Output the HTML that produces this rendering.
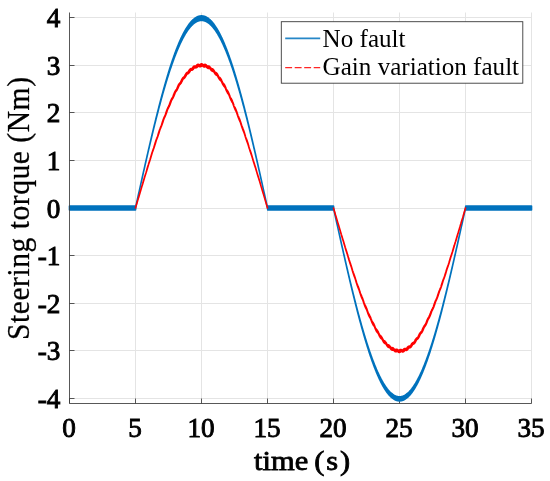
<!DOCTYPE html>
<html lang="en"><head><meta charset="utf-8"><title>Steering torque</title>
<style>html,body{margin:0;padding:0;background:#fff}svg{display:block}</style>
</head><body>
<svg width="550" height="481" viewBox="0 0 550 481">
<rect width="550" height="481" fill="#fff"/>
<path d="M135.50 12.5V403.5M201.50 12.5V403.5M267.50 12.5V403.5M333.50 12.5V403.5M399.50 12.5V403.5M465.50 12.5V403.5M531.50 12.5V403.5M69.5 398.50H531.5M69.5 350.50H531.5M69.5 303.50H531.5M69.5 255.50H531.5M69.5 208.50H531.5M69.5 160.50H531.5M69.5 112.50H531.5M69.5 65.50H531.5M69.5 17.50H531.5" stroke="#E4E4E4" stroke-width="1" fill="none"/>
<path d="M69.50 403.5v-5M135.50 403.5v-5M201.50 403.5v-5M267.50 403.5v-5M333.50 403.5v-5M399.50 403.5v-5M465.50 403.5v-5M531.50 403.5v-5M69.5 398.50h5M69.5 350.50h5M69.5 303.50h5M69.5 255.50h5M69.5 208.50h5M69.5 160.50h5M69.5 112.50h5M69.5 65.50h5M69.5 17.50h5" stroke="#3a3a3a" stroke-width="0.85" fill="none"/>
<path d="M69.50 206.00L69.83 206.00L70.16 206.00L70.49 206.00L70.82 206.00L71.15 206.00L71.48 206.00L71.81 206.00L72.14 206.00L72.47 206.00L72.80 206.00L73.13 206.00L73.46 206.00L73.79 206.00L74.12 206.00L74.45 206.00L74.78 206.00L75.11 206.00L75.44 206.00L75.77 206.00L76.10 206.00L76.43 206.00L76.76 206.00L77.09 206.00L77.42 206.00L77.75 206.00L78.08 206.00L78.41 206.00L78.74 206.00L79.07 206.00L79.40 206.00L79.73 206.00L80.06 206.00L80.39 206.00L80.72 206.00L81.05 206.00L81.38 206.00L81.71 206.00L82.04 206.00L82.37 206.00L82.70 206.00L83.03 206.00L83.36 206.00L83.69 206.00L84.02 206.00L84.35 206.00L84.68 206.00L85.01 206.00L85.34 206.00L85.67 206.00L86.00 206.00L86.33 206.00L86.66 206.00L86.99 206.00L87.32 206.00L87.65 206.00L87.98 206.00L88.31 206.00L88.64 206.00L88.97 206.00L89.30 206.00L89.63 206.00L89.96 206.00L90.29 206.00L90.62 206.00L90.95 206.00L91.28 206.00L91.61 206.00L91.94 206.00L92.27 206.00L92.60 206.00L92.93 206.00L93.26 206.00L93.59 206.00L93.92 206.00L94.25 206.00L94.58 206.00L94.91 206.00L95.24 206.00L95.57 206.00L95.90 206.00L96.23 206.00L96.56 206.00L96.89 206.00L97.22 206.00L97.55 206.00L97.88 206.00L98.21 206.00L98.54 206.00L98.87 206.00L99.20 206.00L99.53 206.00L99.86 206.00L100.19 206.00L100.52 206.00L100.85 206.00L101.18 206.00L101.51 206.00L101.84 206.00L102.17 206.00L102.50 206.00L102.83 206.00L103.16 206.00L103.49 206.00L103.82 206.00L104.15 206.00L104.48 206.00L104.81 206.00L105.14 206.00L105.47 206.00L105.80 206.00L106.13 206.00L106.46 206.00L106.79 206.00L107.12 206.00L107.45 206.00L107.78 206.00L108.11 206.00L108.44 206.00L108.77 206.00L109.10 206.00L109.43 206.00L109.76 206.00L110.09 206.00L110.42 206.00L110.75 206.00L111.08 206.00L111.41 206.00L111.74 206.00L112.07 206.00L112.40 206.00L112.73 206.00L113.06 206.00L113.39 206.00L113.72 206.00L114.05 206.00L114.38 206.00L114.71 206.00L115.04 206.00L115.37 206.00L115.70 206.00L116.03 206.00L116.36 206.00L116.69 206.00L117.02 206.00L117.35 206.00L117.68 206.00L118.01 206.00L118.34 206.00L118.67 206.00L119.00 206.00L119.33 206.00L119.66 206.00L119.99 206.00L120.32 206.00L120.65 206.00L120.98 206.00L121.31 206.00L121.64 206.00L121.97 206.00L122.30 206.00L122.63 206.00L122.96 206.00L123.29 206.00L123.62 206.00L123.95 206.00L124.28 206.00L124.61 206.00L124.94 206.00L125.27 206.00L125.60 206.00L125.93 206.00L126.26 206.00L126.59 206.00L126.92 206.00L127.25 206.00L127.58 206.00L127.91 206.00L128.24 206.00L128.57 206.00L128.90 206.00L129.23 206.00L129.56 206.00L129.89 206.00L130.22 206.00L130.55 206.00L130.88 206.00L131.21 206.00L131.54 206.00L131.87 206.00L132.20 206.00L132.53 206.00L132.86 206.00L133.19 206.00L133.52 206.00L133.85 206.00L134.18 206.00L134.51 206.00L134.84 206.00L135.17 206.00L135.50 206.00L135.83 206.50L136.16 205.01L136.49 203.51L136.82 202.02L137.15 200.52L137.48 199.02L137.81 197.53L138.14 196.03L138.47 194.54L138.80 193.05L139.13 191.56L139.46 190.06L139.79 188.57L140.12 187.08L140.45 185.59L140.78 184.11L141.11 182.62L141.44 181.14L141.77 179.65L142.10 178.17L142.43 176.69L142.76 175.21L143.09 173.74L143.42 172.26L143.75 170.79L144.08 169.32L144.41 167.85L144.74 166.39L145.07 164.92L145.40 163.46L145.73 162.01L146.06 160.55L146.39 159.10L146.72 157.65L147.05 156.20L147.38 154.76L147.71 153.31L148.04 151.88L148.37 150.44L148.70 149.01L149.03 147.58L149.36 146.16L149.69 144.74L150.02 143.32L150.35 141.91L150.68 140.50L151.01 139.10L151.34 137.69L151.67 136.30L152.00 134.91L152.33 133.52L152.66 132.13L152.99 130.75L153.32 129.38L153.65 128.01L153.98 126.64L154.31 125.28L154.64 123.93L154.97 122.58L155.30 121.23L155.63 119.89L155.96 118.56L156.29 117.23L156.62 115.91L156.95 114.59L157.28 113.27L157.61 111.97L157.94 110.67L158.27 109.37L158.60 108.08L158.93 106.80L159.26 105.52L159.59 104.25L159.92 102.98L160.25 101.72L160.58 100.47L160.91 99.23L161.24 97.99L161.57 96.76L161.90 95.53L162.23 94.31L162.56 93.10L162.89 91.89L163.22 90.70L163.55 89.51L163.88 88.32L164.21 87.15L164.54 85.98L164.87 84.82L165.20 83.66L165.53 82.51L165.86 81.38L166.19 80.24L166.52 79.12L166.85 78.01L167.18 76.90L167.51 75.80L167.84 74.71L168.17 73.62L168.50 72.55L168.83 71.48L169.16 70.42L169.49 69.37L169.82 68.33L170.15 67.30L170.48 66.28L170.81 65.26L171.14 64.25L171.47 63.26L171.80 62.27L172.13 61.29L172.46 60.32L172.79 59.35L173.12 58.40L173.45 57.46L173.78 56.52L174.11 55.60L174.44 54.68L174.77 53.78L175.10 52.88L175.43 51.99L175.76 51.11L176.09 50.25L176.42 49.39L176.75 48.54L177.08 47.70L177.41 46.87L177.74 46.05L178.07 45.24L178.40 44.45L178.73 43.66L179.06 42.88L179.39 42.11L179.72 41.35L180.05 40.60L180.38 39.87L180.71 39.14L181.04 38.42L181.37 37.72L181.70 37.02L182.03 36.34L182.36 35.66L182.69 35.00L183.02 34.35L183.35 33.70L183.68 33.07L184.01 32.45L184.34 31.84L184.67 31.24L185.00 30.66L185.33 30.08L185.66 29.51L185.99 28.96L186.32 28.42L186.65 27.88L186.98 27.36L187.31 26.85L187.64 26.35L187.97 25.87L188.30 25.39L188.63 24.93L188.96 24.47L189.29 24.03L189.62 23.60L189.95 23.18L190.28 22.77L190.61 22.38L190.94 21.99L191.27 21.62L191.60 21.26L191.93 20.91L192.26 20.57L192.59 20.25L192.92 19.93L193.25 19.63L193.58 19.34L193.91 19.06L194.24 18.79L194.57 18.53L194.90 18.29L195.23 18.06L195.56 17.84L195.89 17.63L196.22 17.43L196.55 17.24L196.88 17.07L197.21 16.91L197.54 16.76L197.87 16.62L198.20 16.50L198.53 16.38L198.86 16.28L199.19 16.19L199.52 16.12L199.85 16.05L200.18 16.00L200.51 15.95L200.84 15.92L201.17 15.91L201.50 15.90L201.83 15.91L202.16 15.92L202.49 15.95L202.82 16.00L203.15 16.05L203.48 16.12L203.81 16.19L204.14 16.28L204.47 16.38L204.80 16.50L205.13 16.62L205.46 16.76L205.79 16.91L206.12 17.07L206.45 17.24L206.78 17.43L207.11 17.63L207.44 17.84L207.77 18.06L208.10 18.29L208.43 18.53L208.76 18.79L209.09 19.06L209.42 19.34L209.75 19.63L210.08 19.93L210.41 20.25L210.74 20.57L211.07 20.91L211.40 21.26L211.73 21.62L212.06 21.99L212.39 22.38L212.72 22.77L213.05 23.18L213.38 23.60L213.71 24.03L214.04 24.47L214.37 24.93L214.70 25.39L215.03 25.87L215.36 26.35L215.69 26.85L216.02 27.36L216.35 27.88L216.68 28.42L217.01 28.96L217.34 29.51L217.67 30.08L218.00 30.66L218.33 31.24L218.66 31.84L218.99 32.45L219.32 33.07L219.65 33.70L219.98 34.35L220.31 35.00L220.64 35.66L220.97 36.34L221.30 37.02L221.63 37.72L221.96 38.42L222.29 39.14L222.62 39.87L222.95 40.60L223.28 41.35L223.61 42.11L223.94 42.88L224.27 43.66L224.60 44.45L224.93 45.24L225.26 46.05L225.59 46.87L225.92 47.70L226.25 48.54L226.58 49.39L226.91 50.25L227.24 51.11L227.57 51.99L227.90 52.88L228.23 53.78L228.56 54.68L228.89 55.60L229.22 56.52L229.55 57.46L229.88 58.40L230.21 59.35L230.54 60.32L230.87 61.29L231.20 62.27L231.53 63.26L231.86 64.25L232.19 65.26L232.52 66.28L232.85 67.30L233.18 68.33L233.51 69.37L233.84 70.42L234.17 71.48L234.50 72.55L234.83 73.62L235.16 74.71L235.49 75.80L235.82 76.90L236.15 78.01L236.48 79.12L236.81 80.24L237.14 81.38L237.47 82.51L237.80 83.66L238.13 84.82L238.46 85.98L238.79 87.15L239.12 88.32L239.45 89.51L239.78 90.70L240.11 91.89L240.44 93.10L240.77 94.31L241.10 95.53L241.43 96.76L241.76 97.99L242.09 99.23L242.42 100.47L242.75 101.72L243.08 102.98L243.41 104.25L243.74 105.52L244.07 106.80L244.40 108.08L244.73 109.37L245.06 110.67L245.39 111.97L245.72 113.27L246.05 114.59L246.38 115.91L246.71 117.23L247.04 118.56L247.37 119.89L247.70 121.23L248.03 122.58L248.36 123.93L248.69 125.28L249.02 126.64L249.35 128.01L249.68 129.38L250.01 130.75L250.34 132.13L250.67 133.52L251.00 134.91L251.33 136.30L251.66 137.69L251.99 139.10L252.32 140.50L252.65 141.91L252.98 143.32L253.31 144.74L253.64 146.16L253.97 147.58L254.30 149.01L254.63 150.44L254.96 151.88L255.29 153.31L255.62 154.76L255.95 156.20L256.28 157.65L256.61 159.10L256.94 160.55L257.27 162.01L257.60 163.46L257.93 164.92L258.26 166.39L258.59 167.85L258.92 169.32L259.25 170.79L259.58 172.26L259.91 173.74L260.24 175.21L260.57 176.69L260.90 178.17L261.23 179.65L261.56 181.14L261.89 182.62L262.22 184.11L262.55 185.59L262.88 187.08L263.21 188.57L263.54 190.06L263.87 191.56L264.20 193.05L264.53 194.54L264.86 196.03L265.19 197.53L265.52 199.02L265.85 200.52L266.18 202.02L266.51 203.51L266.84 205.01L267.17 206.50L267.50 208.00L267.83 206.00L268.16 206.00L268.49 206.00L268.82 206.00L269.15 206.00L269.48 206.00L269.81 206.00L270.14 206.00L270.47 206.00L270.80 206.00L271.13 206.00L271.46 206.00L271.79 206.00L272.12 206.00L272.45 206.00L272.78 206.00L273.11 206.00L273.44 206.00L273.77 206.00L274.10 206.00L274.43 206.00L274.76 206.00L275.09 206.00L275.42 206.00L275.75 206.00L276.08 206.00L276.41 206.00L276.74 206.00L277.07 206.00L277.40 206.00L277.73 206.00L278.06 206.00L278.39 206.00L278.72 206.00L279.05 206.00L279.38 206.00L279.71 206.00L280.04 206.00L280.37 206.00L280.70 206.00L281.03 206.00L281.36 206.00L281.69 206.00L282.02 206.00L282.35 206.00L282.68 206.00L283.01 206.00L283.34 206.00L283.67 206.00L284.00 206.00L284.33 206.00L284.66 206.00L284.99 206.00L285.32 206.00L285.65 206.00L285.98 206.00L286.31 206.00L286.64 206.00L286.97 206.00L287.30 206.00L287.63 206.00L287.96 206.00L288.29 206.00L288.62 206.00L288.95 206.00L289.28 206.00L289.61 206.00L289.94 206.00L290.27 206.00L290.60 206.00L290.93 206.00L291.26 206.00L291.59 206.00L291.92 206.00L292.25 206.00L292.58 206.00L292.91 206.00L293.24 206.00L293.57 206.00L293.90 206.00L294.23 206.00L294.56 206.00L294.89 206.00L295.22 206.00L295.55 206.00L295.88 206.00L296.21 206.00L296.54 206.00L296.87 206.00L297.20 206.00L297.53 206.00L297.86 206.00L298.19 206.00L298.52 206.00L298.85 206.00L299.18 206.00L299.51 206.00L299.84 206.00L300.17 206.00L300.50 206.00L300.83 206.00L301.16 206.00L301.49 206.00L301.82 206.00L302.15 206.00L302.48 206.00L302.81 206.00L303.14 206.00L303.47 206.00L303.80 206.00L304.13 206.00L304.46 206.00L304.79 206.00L305.12 206.00L305.45 206.00L305.78 206.00L306.11 206.00L306.44 206.00L306.77 206.00L307.10 206.00L307.43 206.00L307.76 206.00L308.09 206.00L308.42 206.00L308.75 206.00L309.08 206.00L309.41 206.00L309.74 206.00L310.07 206.00L310.40 206.00L310.73 206.00L311.06 206.00L311.39 206.00L311.72 206.00L312.05 206.00L312.38 206.00L312.71 206.00L313.04 206.00L313.37 206.00L313.70 206.00L314.03 206.00L314.36 206.00L314.69 206.00L315.02 206.00L315.35 206.00L315.68 206.00L316.01 206.00L316.34 206.00L316.67 206.00L317.00 206.00L317.33 206.00L317.66 206.00L317.99 206.00L318.32 206.00L318.65 206.00L318.98 206.00L319.31 206.00L319.64 206.00L319.97 206.00L320.30 206.00L320.63 206.00L320.96 206.00L321.29 206.00L321.62 206.00L321.95 206.00L322.28 206.00L322.61 206.00L322.94 206.00L323.27 206.00L323.60 206.00L323.93 206.00L324.26 206.00L324.59 206.00L324.92 206.00L325.25 206.00L325.58 206.00L325.91 206.00L326.24 206.00L326.57 206.00L326.90 206.00L327.23 206.00L327.56 206.00L327.89 206.00L328.22 206.00L328.55 206.00L328.88 206.00L329.21 206.00L329.54 206.00L329.87 206.00L330.20 206.00L330.53 206.00L330.86 206.00L331.19 206.00L331.52 206.00L331.85 206.00L332.18 206.00L332.51 206.00L332.84 206.00L333.17 206.00L333.50 206.00L333.83 209.50L334.16 210.99L334.49 212.49L334.82 213.98L335.15 215.48L335.48 216.97L335.81 218.47L336.14 219.96L336.47 221.45L336.80 222.94L337.13 224.43L337.46 225.92L337.79 227.41L338.12 228.89L338.45 230.38L338.78 231.86L339.11 233.34L339.44 234.82L339.77 236.30L340.10 237.77L340.43 239.25L340.76 240.72L341.09 242.19L341.42 243.65L341.75 245.12L342.08 246.58L342.41 248.04L342.74 249.50L343.07 250.95L343.40 252.40L343.73 253.85L344.06 255.30L344.39 256.74L344.72 258.18L345.05 259.61L345.38 261.05L345.71 262.47L346.04 263.90L346.37 265.32L346.70 266.74L347.03 268.15L347.36 269.56L347.69 270.97L348.02 272.37L348.35 273.77L348.68 275.16L349.01 276.55L349.34 277.94L349.67 279.32L350.00 280.70L350.33 282.07L350.66 283.43L350.99 284.80L351.32 286.15L351.65 287.50L351.98 288.85L352.31 290.19L352.64 291.53L352.97 292.86L353.30 294.19L353.63 295.51L353.96 296.82L354.29 298.13L354.62 299.43L354.95 300.73L355.28 302.02L355.61 303.31L355.94 304.59L356.27 305.86L356.60 307.13L356.93 308.39L357.26 309.64L357.59 310.89L357.92 312.13L358.25 313.37L358.58 314.60L358.91 315.82L359.24 317.04L359.57 318.24L359.90 319.44L360.23 320.64L360.56 321.83L360.89 323.01L361.22 324.18L361.55 325.35L361.88 326.50L362.21 327.65L362.54 328.80L362.87 329.93L363.20 331.06L363.53 332.18L363.86 333.30L364.19 334.40L364.52 335.50L364.85 336.59L365.18 337.67L365.51 338.74L365.84 339.81L366.17 340.86L366.50 341.91L366.83 342.95L367.16 343.98L367.49 345.01L367.82 346.02L368.15 347.03L368.48 348.02L368.81 349.01L369.14 349.99L369.47 350.96L369.80 351.93L370.13 352.88L370.46 353.82L370.79 354.76L371.12 355.69L371.45 356.60L371.78 357.51L372.11 358.41L372.44 359.30L372.77 360.18L373.10 361.05L373.43 361.91L373.76 362.76L374.09 363.61L374.42 364.44L374.75 365.26L375.08 366.08L375.41 366.88L375.74 367.67L376.07 368.46L376.40 369.23L376.73 369.99L377.06 370.75L377.39 371.49L377.72 372.23L378.05 372.95L378.38 373.66L378.71 374.37L379.04 375.06L379.37 375.75L379.70 376.42L380.03 377.08L380.36 377.73L380.69 378.37L381.02 379.01L381.35 379.63L381.68 380.24L382.01 380.84L382.34 381.42L382.67 382.00L383.00 382.57L383.33 383.13L383.66 383.67L383.99 384.21L384.32 384.73L384.65 385.25L384.98 385.75L385.31 386.24L385.64 386.72L385.97 387.19L386.30 387.65L386.63 388.10L386.96 388.54L387.29 388.97L387.62 389.38L387.95 389.78L388.28 390.18L388.61 390.56L388.94 390.93L389.27 391.29L389.60 391.64L389.93 391.98L390.26 392.30L390.59 392.62L390.92 392.92L391.25 393.21L391.58 393.49L391.91 393.76L392.24 394.02L392.57 394.27L392.90 394.50L393.23 394.72L393.56 394.94L393.89 395.14L394.22 395.33L394.55 395.51L394.88 395.67L395.21 395.83L395.54 395.97L395.87 396.10L396.20 396.22L396.53 396.33L396.86 396.43L397.19 396.52L397.52 396.59L397.85 396.66L398.18 396.71L398.51 396.75L398.84 396.78L399.17 396.79L399.50 396.80L399.83 396.79L400.16 396.78L400.49 396.75L400.82 396.71L401.15 396.66L401.48 396.59L401.81 396.52L402.14 396.43L402.47 396.33L402.80 396.22L403.13 396.10L403.46 395.97L403.79 395.83L404.12 395.67L404.45 395.51L404.78 395.33L405.11 395.14L405.44 394.94L405.77 394.72L406.10 394.50L406.43 394.27L406.76 394.02L407.09 393.76L407.42 393.49L407.75 393.21L408.08 392.92L408.41 392.62L408.74 392.30L409.07 391.98L409.40 391.64L409.73 391.29L410.06 390.93L410.39 390.56L410.72 390.18L411.05 389.78L411.38 389.38L411.71 388.97L412.04 388.54L412.37 388.10L412.70 387.65L413.03 387.19L413.36 386.72L413.69 386.24L414.02 385.75L414.35 385.25L414.68 384.73L415.01 384.21L415.34 383.67L415.67 383.13L416.00 382.57L416.33 382.00L416.66 381.42L416.99 380.84L417.32 380.24L417.65 379.63L417.98 379.01L418.31 378.37L418.64 377.73L418.97 377.08L419.30 376.42L419.63 375.75L419.96 375.06L420.29 374.37L420.62 373.66L420.95 372.95L421.28 372.23L421.61 371.49L421.94 370.75L422.27 369.99L422.60 369.23L422.93 368.46L423.26 367.67L423.59 366.88L423.92 366.08L424.25 365.26L424.58 364.44L424.91 363.61L425.24 362.76L425.57 361.91L425.90 361.05L426.23 360.18L426.56 359.30L426.89 358.41L427.22 357.51L427.55 356.60L427.88 355.69L428.21 354.76L428.54 353.82L428.87 352.88L429.20 351.93L429.53 350.96L429.86 349.99L430.19 349.01L430.52 348.02L430.85 347.03L431.18 346.02L431.51 345.01L431.84 343.98L432.17 342.95L432.50 341.91L432.83 340.86L433.16 339.81L433.49 338.74L433.82 337.67L434.15 336.59L434.48 335.50L434.81 334.40L435.14 333.30L435.47 332.18L435.80 331.06L436.13 329.93L436.46 328.80L436.79 327.65L437.12 326.50L437.45 325.35L437.78 324.18L438.11 323.01L438.44 321.83L438.77 320.64L439.10 319.44L439.43 318.24L439.76 317.04L440.09 315.82L440.42 314.60L440.75 313.37L441.08 312.13L441.41 310.89L441.74 309.64L442.07 308.39L442.40 307.13L442.73 305.86L443.06 304.59L443.39 303.31L443.72 302.02L444.05 300.73L444.38 299.43L444.71 298.13L445.04 296.82L445.37 295.51L445.70 294.19L446.03 292.86L446.36 291.53L446.69 290.19L447.02 288.85L447.35 287.50L447.68 286.15L448.01 284.80L448.34 283.43L448.67 282.07L449.00 280.70L449.33 279.32L449.66 277.94L449.99 276.55L450.32 275.16L450.65 273.77L450.98 272.37L451.31 270.97L451.64 269.56L451.97 268.15L452.30 266.74L452.63 265.32L452.96 263.90L453.29 262.47L453.62 261.05L453.95 259.61L454.28 258.18L454.61 256.74L454.94 255.30L455.27 253.85L455.60 252.40L455.93 250.95L456.26 249.50L456.59 248.04L456.92 246.58L457.25 245.12L457.58 243.65L457.91 242.19L458.24 240.72L458.57 239.25L458.90 237.77L459.23 236.30L459.56 234.82L459.89 233.34L460.22 231.86L460.55 230.38L460.88 228.89L461.21 227.41L461.54 225.92L461.87 224.43L462.20 222.94L462.53 221.45L462.86 219.96L463.19 218.47L463.52 216.97L463.85 215.48L464.18 213.98L464.51 212.49L464.84 210.99L465.17 209.50L465.50 208.00L465.83 206.00L466.16 206.00L466.49 206.00L466.82 206.00L467.15 206.00L467.48 206.00L467.81 206.00L468.14 206.00L468.47 206.00L468.80 206.00L469.13 206.00L469.46 206.00L469.79 206.00L470.12 206.00L470.45 206.00L470.78 206.00L471.11 206.00L471.44 206.00L471.77 206.00L472.10 206.00L472.43 206.00L472.76 206.00L473.09 206.00L473.42 206.00L473.75 206.00L474.08 206.00L474.41 206.00L474.74 206.00L475.07 206.00L475.40 206.00L475.73 206.00L476.06 206.00L476.39 206.00L476.72 206.00L477.05 206.00L477.38 206.00L477.71 206.00L478.04 206.00L478.37 206.00L478.70 206.00L479.03 206.00L479.36 206.00L479.69 206.00L480.02 206.00L480.35 206.00L480.68 206.00L481.01 206.00L481.34 206.00L481.67 206.00L482.00 206.00L482.33 206.00L482.66 206.00L482.99 206.00L483.32 206.00L483.65 206.00L483.98 206.00L484.31 206.00L484.64 206.00L484.97 206.00L485.30 206.00L485.63 206.00L485.96 206.00L486.29 206.00L486.62 206.00L486.95 206.00L487.28 206.00L487.61 206.00L487.94 206.00L488.27 206.00L488.60 206.00L488.93 206.00L489.26 206.00L489.59 206.00L489.92 206.00L490.25 206.00L490.58 206.00L490.91 206.00L491.24 206.00L491.57 206.00L491.90 206.00L492.23 206.00L492.56 206.00L492.89 206.00L493.22 206.00L493.55 206.00L493.88 206.00L494.21 206.00L494.54 206.00L494.87 206.00L495.20 206.00L495.53 206.00L495.86 206.00L496.19 206.00L496.52 206.00L496.85 206.00L497.18 206.00L497.51 206.00L497.84 206.00L498.17 206.00L498.50 206.00L498.83 206.00L499.16 206.00L499.49 206.00L499.82 206.00L500.15 206.00L500.48 206.00L500.81 206.00L501.14 206.00L501.47 206.00L501.80 206.00L502.13 206.00L502.46 206.00L502.79 206.00L503.12 206.00L503.45 206.00L503.78 206.00L504.11 206.00L504.44 206.00L504.77 206.00L505.10 206.00L505.43 206.00L505.76 206.00L506.09 206.00L506.42 206.00L506.75 206.00L507.08 206.00L507.41 206.00L507.74 206.00L508.07 206.00L508.40 206.00L508.73 206.00L509.06 206.00L509.39 206.00L509.72 206.00L510.05 206.00L510.38 206.00L510.71 206.00L511.04 206.00L511.37 206.00L511.70 206.00L512.03 206.00L512.36 206.00L512.69 206.00L513.02 206.00L513.35 206.00L513.68 206.00L514.01 206.00L514.34 206.00L514.67 206.00L515.00 206.00L515.33 206.00L515.66 206.00L515.99 206.00L516.32 206.00L516.65 206.00L516.98 206.00L517.31 206.00L517.64 206.00L517.97 206.00L518.30 206.00L518.63 206.00L518.96 206.00L519.29 206.00L519.62 206.00L519.95 206.00L520.28 206.00L520.61 206.00L520.94 206.00L521.27 206.00L521.60 206.00L521.93 206.00L522.26 206.00L522.59 206.00L522.92 206.00L523.25 206.00L523.58 206.00L523.91 206.00L524.24 206.00L524.57 206.00L524.90 206.00L525.23 206.00L525.56 206.00L525.89 206.00L526.22 206.00L526.55 206.00L526.88 206.00L527.21 206.00L527.54 206.00L527.87 206.00L528.20 206.00L528.53 206.00L528.86 206.00L529.19 206.00L529.52 206.00L529.85 206.00L530.18 206.00L530.51 206.00L530.84 206.00L531.17 206.00L531.50 206.00L531.50 210.00L531.17 210.00L530.84 210.00L530.51 210.00L530.18 210.00L529.85 210.00L529.52 210.00L529.19 210.00L528.86 210.00L528.53 210.00L528.20 210.00L527.87 210.00L527.54 210.00L527.21 210.00L526.88 210.00L526.55 210.00L526.22 210.00L525.89 210.00L525.56 210.00L525.23 210.00L524.90 210.00L524.57 210.00L524.24 210.00L523.91 210.00L523.58 210.00L523.25 210.00L522.92 210.00L522.59 210.00L522.26 210.00L521.93 210.00L521.60 210.00L521.27 210.00L520.94 210.00L520.61 210.00L520.28 210.00L519.95 210.00L519.62 210.00L519.29 210.00L518.96 210.00L518.63 210.00L518.30 210.00L517.97 210.00L517.64 210.00L517.31 210.00L516.98 210.00L516.65 210.00L516.32 210.00L515.99 210.00L515.66 210.00L515.33 210.00L515.00 210.00L514.67 210.00L514.34 210.00L514.01 210.00L513.68 210.00L513.35 210.00L513.02 210.00L512.69 210.00L512.36 210.00L512.03 210.00L511.70 210.00L511.37 210.00L511.04 210.00L510.71 210.00L510.38 210.00L510.05 210.00L509.72 210.00L509.39 210.00L509.06 210.00L508.73 210.00L508.40 210.00L508.07 210.00L507.74 210.00L507.41 210.00L507.08 210.00L506.75 210.00L506.42 210.00L506.09 210.00L505.76 210.00L505.43 210.00L505.10 210.00L504.77 210.00L504.44 210.00L504.11 210.00L503.78 210.00L503.45 210.00L503.12 210.00L502.79 210.00L502.46 210.00L502.13 210.00L501.80 210.00L501.47 210.00L501.14 210.00L500.81 210.00L500.48 210.00L500.15 210.00L499.82 210.00L499.49 210.00L499.16 210.00L498.83 210.00L498.50 210.00L498.17 210.00L497.84 210.00L497.51 210.00L497.18 210.00L496.85 210.00L496.52 210.00L496.19 210.00L495.86 210.00L495.53 210.00L495.20 210.00L494.87 210.00L494.54 210.00L494.21 210.00L493.88 210.00L493.55 210.00L493.22 210.00L492.89 210.00L492.56 210.00L492.23 210.00L491.90 210.00L491.57 210.00L491.24 210.00L490.91 210.00L490.58 210.00L490.25 210.00L489.92 210.00L489.59 210.00L489.26 210.00L488.93 210.00L488.60 210.00L488.27 210.00L487.94 210.00L487.61 210.00L487.28 210.00L486.95 210.00L486.62 210.00L486.29 210.00L485.96 210.00L485.63 210.00L485.30 210.00L484.97 210.00L484.64 210.00L484.31 210.00L483.98 210.00L483.65 210.00L483.32 210.00L482.99 210.00L482.66 210.00L482.33 210.00L482.00 210.00L481.67 210.00L481.34 210.00L481.01 210.00L480.68 210.00L480.35 210.00L480.02 210.00L479.69 210.00L479.36 210.00L479.03 210.00L478.70 210.00L478.37 210.00L478.04 210.00L477.71 210.00L477.38 210.00L477.05 210.00L476.72 210.00L476.39 210.00L476.06 210.00L475.73 210.00L475.40 210.00L475.07 210.00L474.74 210.00L474.41 210.00L474.08 210.00L473.75 210.00L473.42 210.00L473.09 210.00L472.76 210.00L472.43 210.00L472.10 210.00L471.77 210.00L471.44 210.00L471.11 210.00L470.78 210.00L470.45 210.00L470.12 210.00L469.79 210.00L469.46 210.00L469.13 210.00L468.80 210.00L468.47 210.00L468.14 210.00L467.81 210.00L467.48 210.00L467.15 210.00L466.82 210.00L466.49 210.00L466.16 210.00L465.83 210.00L465.50 208.00L465.17 209.50L464.84 210.99L464.51 212.49L464.18 213.98L463.85 215.48L463.52 216.98L463.19 218.47L462.86 219.97L462.53 221.46L462.20 222.96L461.87 224.45L461.54 225.94L461.21 227.43L460.88 228.92L460.55 230.41L460.22 231.90L459.89 233.39L459.56 234.87L459.23 236.36L458.90 237.84L458.57 239.32L458.24 240.80L457.91 242.28L457.58 243.76L457.25 245.23L456.92 246.70L456.59 248.17L456.26 249.64L455.93 251.10L455.60 252.57L455.27 254.03L454.94 255.49L454.61 256.94L454.28 258.39L453.95 259.84L453.62 261.29L453.29 262.73L452.96 264.17L452.63 265.61L452.30 267.05L451.97 268.48L451.64 269.90L451.31 271.33L450.98 272.75L450.65 274.16L450.32 275.58L449.99 276.98L449.66 278.39L449.33 279.79L449.00 281.19L448.67 282.58L448.34 283.96L448.01 285.35L447.68 286.73L447.35 288.10L447.02 289.47L446.69 290.83L446.36 292.19L446.03 293.55L445.70 294.90L445.37 296.24L445.04 297.58L444.71 298.92L444.38 300.25L444.05 301.57L443.72 302.89L443.39 304.20L443.06 305.50L442.73 306.80L442.40 308.10L442.07 309.39L441.74 310.67L441.41 311.95L441.08 313.22L440.75 314.48L440.42 315.74L440.09 316.99L439.76 318.23L439.43 319.47L439.10 320.70L438.77 321.93L438.44 323.15L438.11 324.36L437.78 325.56L437.45 326.76L437.12 327.95L436.79 329.13L436.46 330.30L436.13 331.47L435.80 332.63L435.47 333.78L435.14 334.93L434.81 336.06L434.48 337.19L434.15 338.31L433.82 339.43L433.49 340.53L433.16 341.63L432.83 342.72L432.50 343.80L432.17 344.87L431.84 345.94L431.51 346.99L431.18 348.04L430.85 349.08L430.52 350.11L430.19 351.13L429.86 352.14L429.53 353.15L429.20 354.14L428.87 355.13L428.54 356.11L428.21 357.08L427.88 358.03L427.55 358.98L427.22 359.92L426.89 360.86L426.56 361.78L426.23 362.69L425.90 363.59L425.57 364.49L425.24 365.37L424.91 366.24L424.58 367.11L424.25 367.96L423.92 368.81L423.59 369.64L423.26 370.46L422.93 371.28L422.60 372.08L422.27 372.88L421.94 373.66L421.61 374.43L421.28 375.20L420.95 375.95L420.62 376.69L420.29 377.43L419.96 378.15L419.63 378.86L419.30 379.56L418.97 380.25L418.64 380.93L418.31 381.60L417.98 382.26L417.65 382.90L417.32 383.54L416.99 384.16L416.66 384.78L416.33 385.38L416.00 385.97L415.67 386.55L415.34 387.12L415.01 387.68L414.68 388.23L414.35 388.77L414.02 389.29L413.69 389.81L413.36 390.31L413.03 390.80L412.70 391.28L412.37 391.75L412.04 392.21L411.71 392.65L411.38 393.09L411.05 393.51L410.72 393.92L410.39 394.32L410.06 394.71L409.73 395.08L409.40 395.45L409.07 395.80L408.74 396.14L408.41 396.47L408.08 396.79L407.75 397.09L407.42 397.39L407.09 397.67L406.76 397.94L406.43 398.20L406.10 398.44L405.77 398.68L405.44 398.90L405.11 399.11L404.78 399.31L404.45 399.49L404.12 399.67L403.79 399.83L403.46 399.98L403.13 400.12L402.80 400.25L402.47 400.36L402.14 400.46L401.81 400.55L401.48 400.63L401.15 400.70L400.82 400.75L400.49 400.80L400.16 400.83L399.83 400.84L399.50 400.85L399.17 400.84L398.84 400.83L398.51 400.80L398.18 400.75L397.85 400.70L397.52 400.63L397.19 400.55L396.86 400.46L396.53 400.36L396.20 400.25L395.87 400.12L395.54 399.98L395.21 399.83L394.88 399.67L394.55 399.49L394.22 399.31L393.89 399.11L393.56 398.90L393.23 398.68L392.90 398.44L392.57 398.20L392.24 397.94L391.91 397.67L391.58 397.39L391.25 397.09L390.92 396.79L390.59 396.47L390.26 396.14L389.93 395.80L389.60 395.45L389.27 395.08L388.94 394.71L388.61 394.32L388.28 393.92L387.95 393.51L387.62 393.09L387.29 392.65L386.96 392.21L386.63 391.75L386.30 391.28L385.97 390.80L385.64 390.31L385.31 389.81L384.98 389.29L384.65 388.77L384.32 388.23L383.99 387.68L383.66 387.12L383.33 386.55L383.00 385.97L382.67 385.38L382.34 384.78L382.01 384.16L381.68 383.54L381.35 382.90L381.02 382.26L380.69 381.60L380.36 380.93L380.03 380.25L379.70 379.56L379.37 378.86L379.04 378.15L378.71 377.43L378.38 376.69L378.05 375.95L377.72 375.20L377.39 374.43L377.06 373.66L376.73 372.88L376.40 372.08L376.07 371.28L375.74 370.46L375.41 369.64L375.08 368.81L374.75 367.96L374.42 367.11L374.09 366.24L373.76 365.37L373.43 364.49L373.10 363.59L372.77 362.69L372.44 361.78L372.11 360.86L371.78 359.92L371.45 358.98L371.12 358.03L370.79 357.08L370.46 356.11L370.13 355.13L369.80 354.14L369.47 353.15L369.14 352.14L368.81 351.13L368.48 350.11L368.15 349.08L367.82 348.04L367.49 346.99L367.16 345.94L366.83 344.87L366.50 343.80L366.17 342.72L365.84 341.63L365.51 340.53L365.18 339.43L364.85 338.31L364.52 337.19L364.19 336.06L363.86 334.93L363.53 333.78L363.20 332.63L362.87 331.47L362.54 330.30L362.21 329.13L361.88 327.95L361.55 326.76L361.22 325.56L360.89 324.36L360.56 323.15L360.23 321.93L359.90 320.70L359.57 319.47L359.24 318.23L358.91 316.99L358.58 315.74L358.25 314.48L357.92 313.22L357.59 311.95L357.26 310.67L356.93 309.39L356.60 308.10L356.27 306.80L355.94 305.50L355.61 304.20L355.28 302.89L354.95 301.57L354.62 300.25L354.29 298.92L353.96 297.58L353.63 296.24L353.30 294.90L352.97 293.55L352.64 292.19L352.31 290.83L351.98 289.47L351.65 288.10L351.32 286.73L350.99 285.35L350.66 283.96L350.33 282.58L350.00 281.19L349.67 279.79L349.34 278.39L349.01 276.98L348.68 275.58L348.35 274.16L348.02 272.75L347.69 271.33L347.36 269.90L347.03 268.48L346.70 267.05L346.37 265.61L346.04 264.17L345.71 262.73L345.38 261.29L345.05 259.84L344.72 258.39L344.39 256.94L344.06 255.49L343.73 254.03L343.40 252.57L343.07 251.10L342.74 249.64L342.41 248.17L342.08 246.70L341.75 245.23L341.42 243.76L341.09 242.28L340.76 240.80L340.43 239.32L340.10 237.84L339.77 236.36L339.44 234.87L339.11 233.39L338.78 231.90L338.45 230.41L338.12 228.92L337.79 227.43L337.46 225.94L337.13 224.45L336.80 222.96L336.47 221.46L336.14 219.97L335.81 218.47L335.48 216.98L335.15 215.48L334.82 213.98L334.49 212.49L334.16 210.99L333.83 209.50L333.50 210.00L333.17 210.00L332.84 210.00L332.51 210.00L332.18 210.00L331.85 210.00L331.52 210.00L331.19 210.00L330.86 210.00L330.53 210.00L330.20 210.00L329.87 210.00L329.54 210.00L329.21 210.00L328.88 210.00L328.55 210.00L328.22 210.00L327.89 210.00L327.56 210.00L327.23 210.00L326.90 210.00L326.57 210.00L326.24 210.00L325.91 210.00L325.58 210.00L325.25 210.00L324.92 210.00L324.59 210.00L324.26 210.00L323.93 210.00L323.60 210.00L323.27 210.00L322.94 210.00L322.61 210.00L322.28 210.00L321.95 210.00L321.62 210.00L321.29 210.00L320.96 210.00L320.63 210.00L320.30 210.00L319.97 210.00L319.64 210.00L319.31 210.00L318.98 210.00L318.65 210.00L318.32 210.00L317.99 210.00L317.66 210.00L317.33 210.00L317.00 210.00L316.67 210.00L316.34 210.00L316.01 210.00L315.68 210.00L315.35 210.00L315.02 210.00L314.69 210.00L314.36 210.00L314.03 210.00L313.70 210.00L313.37 210.00L313.04 210.00L312.71 210.00L312.38 210.00L312.05 210.00L311.72 210.00L311.39 210.00L311.06 210.00L310.73 210.00L310.40 210.00L310.07 210.00L309.74 210.00L309.41 210.00L309.08 210.00L308.75 210.00L308.42 210.00L308.09 210.00L307.76 210.00L307.43 210.00L307.10 210.00L306.77 210.00L306.44 210.00L306.11 210.00L305.78 210.00L305.45 210.00L305.12 210.00L304.79 210.00L304.46 210.00L304.13 210.00L303.80 210.00L303.47 210.00L303.14 210.00L302.81 210.00L302.48 210.00L302.15 210.00L301.82 210.00L301.49 210.00L301.16 210.00L300.83 210.00L300.50 210.00L300.17 210.00L299.84 210.00L299.51 210.00L299.18 210.00L298.85 210.00L298.52 210.00L298.19 210.00L297.86 210.00L297.53 210.00L297.20 210.00L296.87 210.00L296.54 210.00L296.21 210.00L295.88 210.00L295.55 210.00L295.22 210.00L294.89 210.00L294.56 210.00L294.23 210.00L293.90 210.00L293.57 210.00L293.24 210.00L292.91 210.00L292.58 210.00L292.25 210.00L291.92 210.00L291.59 210.00L291.26 210.00L290.93 210.00L290.60 210.00L290.27 210.00L289.94 210.00L289.61 210.00L289.28 210.00L288.95 210.00L288.62 210.00L288.29 210.00L287.96 210.00L287.63 210.00L287.30 210.00L286.97 210.00L286.64 210.00L286.31 210.00L285.98 210.00L285.65 210.00L285.32 210.00L284.99 210.00L284.66 210.00L284.33 210.00L284.00 210.00L283.67 210.00L283.34 210.00L283.01 210.00L282.68 210.00L282.35 210.00L282.02 210.00L281.69 210.00L281.36 210.00L281.03 210.00L280.70 210.00L280.37 210.00L280.04 210.00L279.71 210.00L279.38 210.00L279.05 210.00L278.72 210.00L278.39 210.00L278.06 210.00L277.73 210.00L277.40 210.00L277.07 210.00L276.74 210.00L276.41 210.00L276.08 210.00L275.75 210.00L275.42 210.00L275.09 210.00L274.76 210.00L274.43 210.00L274.10 210.00L273.77 210.00L273.44 210.00L273.11 210.00L272.78 210.00L272.45 210.00L272.12 210.00L271.79 210.00L271.46 210.00L271.13 210.00L270.80 210.00L270.47 210.00L270.14 210.00L269.81 210.00L269.48 210.00L269.15 210.00L268.82 210.00L268.49 210.00L268.16 210.00L267.83 210.00L267.50 208.00L267.17 206.50L266.84 205.01L266.51 203.51L266.18 202.02L265.85 200.52L265.52 199.03L265.19 197.54L264.86 196.04L264.53 194.55L264.20 193.06L263.87 191.58L263.54 190.09L263.21 188.60L262.88 187.12L262.55 185.64L262.22 184.15L261.89 182.67L261.56 181.20L261.23 179.72L260.90 178.25L260.57 176.78L260.24 175.31L259.91 173.84L259.58 172.38L259.25 170.91L258.92 169.46L258.59 168.00L258.26 166.55L257.93 165.09L257.60 163.65L257.27 162.20L256.94 160.76L256.61 159.32L256.28 157.89L255.95 156.46L255.62 155.03L255.29 153.60L254.96 152.18L254.63 150.76L254.30 149.35L253.97 147.94L253.64 146.54L253.31 145.14L252.98 143.74L252.65 142.35L252.32 140.96L251.99 139.57L251.66 138.19L251.33 136.82L251.00 135.45L250.67 134.08L250.34 132.72L250.01 131.37L249.68 130.02L249.35 128.67L249.02 127.33L248.69 126.00L248.36 124.67L248.03 123.34L247.70 122.03L247.37 120.71L247.04 119.40L246.71 118.10L246.38 116.81L246.05 115.52L245.72 114.23L245.39 112.96L245.06 111.68L244.73 110.42L244.40 109.16L244.07 107.91L243.74 106.66L243.41 105.42L243.08 104.19L242.75 102.96L242.42 101.74L242.09 100.53L241.76 99.32L241.43 98.12L241.10 96.93L240.77 95.74L240.44 94.56L240.11 93.39L239.78 92.23L239.45 91.07L239.12 89.92L238.79 88.78L238.46 87.65L238.13 86.52L237.80 85.40L237.47 84.29L237.14 83.19L236.81 82.09L236.48 81.00L236.15 79.93L235.82 78.85L235.49 77.79L235.16 76.73L234.83 75.69L234.50 74.65L234.17 73.62L233.84 72.60L233.51 71.58L233.18 70.58L232.85 69.58L232.52 68.59L232.19 67.61L231.86 66.64L231.53 65.68L231.20 64.73L230.87 63.79L230.54 62.85L230.21 61.93L229.88 61.01L229.55 60.10L229.22 59.20L228.89 58.31L228.56 57.43L228.23 56.56L227.90 55.70L227.57 54.85L227.24 54.01L226.91 53.17L226.58 52.35L226.25 51.54L225.92 50.73L225.59 49.94L225.26 49.15L224.93 48.38L224.60 47.61L224.27 46.86L223.94 46.11L223.61 45.38L223.28 44.65L222.95 43.94L222.62 43.23L222.29 42.54L221.96 41.85L221.63 41.18L221.30 40.51L220.97 39.86L220.64 39.21L220.31 38.58L219.98 37.96L219.65 37.34L219.32 36.74L218.99 36.15L218.66 35.57L218.33 35.00L218.00 34.44L217.67 33.89L217.34 33.35L217.01 32.82L216.68 32.30L216.35 31.79L216.02 31.30L215.69 30.81L215.36 30.34L215.03 29.87L214.70 29.42L214.37 28.98L214.04 28.55L213.71 28.13L213.38 27.72L213.05 27.32L212.72 26.93L212.39 26.55L212.06 26.19L211.73 25.83L211.40 25.49L211.07 25.16L210.74 24.84L210.41 24.53L210.08 24.23L209.75 23.94L209.42 23.66L209.09 23.40L208.76 23.14L208.43 22.90L208.10 22.67L207.77 22.45L207.44 22.24L207.11 22.04L206.78 21.85L206.45 21.68L206.12 21.51L205.79 21.36L205.46 21.22L205.13 21.09L204.80 20.97L204.47 20.86L204.14 20.76L203.81 20.68L203.48 20.60L203.15 20.54L202.82 20.49L202.49 20.45L202.16 20.42L201.83 20.41L201.50 20.40L201.17 20.41L200.84 20.42L200.51 20.45L200.18 20.49L199.85 20.54L199.52 20.60L199.19 20.68L198.86 20.76L198.53 20.86L198.20 20.97L197.87 21.09L197.54 21.22L197.21 21.36L196.88 21.51L196.55 21.68L196.22 21.85L195.89 22.04L195.56 22.24L195.23 22.45L194.90 22.67L194.57 22.90L194.24 23.14L193.91 23.40L193.58 23.66L193.25 23.94L192.92 24.23L192.59 24.53L192.26 24.84L191.93 25.16L191.60 25.49L191.27 25.83L190.94 26.19L190.61 26.55L190.28 26.93L189.95 27.32L189.62 27.72L189.29 28.13L188.96 28.55L188.63 28.98L188.30 29.42L187.97 29.87L187.64 30.34L187.31 30.81L186.98 31.30L186.65 31.79L186.32 32.30L185.99 32.82L185.66 33.35L185.33 33.89L185.00 34.44L184.67 35.00L184.34 35.57L184.01 36.15L183.68 36.74L183.35 37.34L183.02 37.96L182.69 38.58L182.36 39.21L182.03 39.86L181.70 40.51L181.37 41.18L181.04 41.85L180.71 42.54L180.38 43.23L180.05 43.94L179.72 44.65L179.39 45.38L179.06 46.11L178.73 46.86L178.40 47.61L178.07 48.38L177.74 49.15L177.41 49.94L177.08 50.73L176.75 51.54L176.42 52.35L176.09 53.17L175.76 54.01L175.43 54.85L175.10 55.70L174.77 56.56L174.44 57.43L174.11 58.31L173.78 59.20L173.45 60.10L173.12 61.01L172.79 61.93L172.46 62.85L172.13 63.79L171.80 64.73L171.47 65.68L171.14 66.64L170.81 67.61L170.48 68.59L170.15 69.58L169.82 70.58L169.49 71.58L169.16 72.60L168.83 73.62L168.50 74.65L168.17 75.69L167.84 76.73L167.51 77.79L167.18 78.85L166.85 79.93L166.52 81.00L166.19 82.09L165.86 83.19L165.53 84.29L165.20 85.40L164.87 86.52L164.54 87.65L164.21 88.78L163.88 89.92L163.55 91.07L163.22 92.23L162.89 93.39L162.56 94.56L162.23 95.74L161.90 96.93L161.57 98.12L161.24 99.32L160.91 100.53L160.58 101.74L160.25 102.96L159.92 104.19L159.59 105.42L159.26 106.66L158.93 107.91L158.60 109.16L158.27 110.42L157.94 111.68L157.61 112.96L157.28 114.23L156.95 115.52L156.62 116.81L156.29 118.10L155.96 119.40L155.63 120.71L155.30 122.03L154.97 123.34L154.64 124.67L154.31 126.00L153.98 127.33L153.65 128.67L153.32 130.02L152.99 131.37L152.66 132.72L152.33 134.08L152.00 135.45L151.67 136.82L151.34 138.19L151.01 139.57L150.68 140.96L150.35 142.35L150.02 143.74L149.69 145.14L149.36 146.54L149.03 147.94L148.70 149.35L148.37 150.76L148.04 152.18L147.71 153.60L147.38 155.03L147.05 156.46L146.72 157.89L146.39 159.32L146.06 160.76L145.73 162.20L145.40 163.65L145.07 165.09L144.74 166.55L144.41 168.00L144.08 169.46L143.75 170.91L143.42 172.38L143.09 173.84L142.76 175.31L142.43 176.78L142.10 178.25L141.77 179.72L141.44 181.20L141.11 182.67L140.78 184.15L140.45 185.64L140.12 187.12L139.79 188.60L139.46 190.09L139.13 191.58L138.80 193.06L138.47 194.55L138.14 196.04L137.81 197.54L137.48 199.03L137.15 200.52L136.82 202.02L136.49 203.51L136.16 205.01L135.83 206.50L135.50 210.00L135.17 210.00L134.84 210.00L134.51 210.00L134.18 210.00L133.85 210.00L133.52 210.00L133.19 210.00L132.86 210.00L132.53 210.00L132.20 210.00L131.87 210.00L131.54 210.00L131.21 210.00L130.88 210.00L130.55 210.00L130.22 210.00L129.89 210.00L129.56 210.00L129.23 210.00L128.90 210.00L128.57 210.00L128.24 210.00L127.91 210.00L127.58 210.00L127.25 210.00L126.92 210.00L126.59 210.00L126.26 210.00L125.93 210.00L125.60 210.00L125.27 210.00L124.94 210.00L124.61 210.00L124.28 210.00L123.95 210.00L123.62 210.00L123.29 210.00L122.96 210.00L122.63 210.00L122.30 210.00L121.97 210.00L121.64 210.00L121.31 210.00L120.98 210.00L120.65 210.00L120.32 210.00L119.99 210.00L119.66 210.00L119.33 210.00L119.00 210.00L118.67 210.00L118.34 210.00L118.01 210.00L117.68 210.00L117.35 210.00L117.02 210.00L116.69 210.00L116.36 210.00L116.03 210.00L115.70 210.00L115.37 210.00L115.04 210.00L114.71 210.00L114.38 210.00L114.05 210.00L113.72 210.00L113.39 210.00L113.06 210.00L112.73 210.00L112.40 210.00L112.07 210.00L111.74 210.00L111.41 210.00L111.08 210.00L110.75 210.00L110.42 210.00L110.09 210.00L109.76 210.00L109.43 210.00L109.10 210.00L108.77 210.00L108.44 210.00L108.11 210.00L107.78 210.00L107.45 210.00L107.12 210.00L106.79 210.00L106.46 210.00L106.13 210.00L105.80 210.00L105.47 210.00L105.14 210.00L104.81 210.00L104.48 210.00L104.15 210.00L103.82 210.00L103.49 210.00L103.16 210.00L102.83 210.00L102.50 210.00L102.17 210.00L101.84 210.00L101.51 210.00L101.18 210.00L100.85 210.00L100.52 210.00L100.19 210.00L99.86 210.00L99.53 210.00L99.20 210.00L98.87 210.00L98.54 210.00L98.21 210.00L97.88 210.00L97.55 210.00L97.22 210.00L96.89 210.00L96.56 210.00L96.23 210.00L95.90 210.00L95.57 210.00L95.24 210.00L94.91 210.00L94.58 210.00L94.25 210.00L93.92 210.00L93.59 210.00L93.26 210.00L92.93 210.00L92.60 210.00L92.27 210.00L91.94 210.00L91.61 210.00L91.28 210.00L90.95 210.00L90.62 210.00L90.29 210.00L89.96 210.00L89.63 210.00L89.30 210.00L88.97 210.00L88.64 210.00L88.31 210.00L87.98 210.00L87.65 210.00L87.32 210.00L86.99 210.00L86.66 210.00L86.33 210.00L86.00 210.00L85.67 210.00L85.34 210.00L85.01 210.00L84.68 210.00L84.35 210.00L84.02 210.00L83.69 210.00L83.36 210.00L83.03 210.00L82.70 210.00L82.37 210.00L82.04 210.00L81.71 210.00L81.38 210.00L81.05 210.00L80.72 210.00L80.39 210.00L80.06 210.00L79.73 210.00L79.40 210.00L79.07 210.00L78.74 210.00L78.41 210.00L78.08 210.00L77.75 210.00L77.42 210.00L77.09 210.00L76.76 210.00L76.43 210.00L76.10 210.00L75.77 210.00L75.44 210.00L75.11 210.00L74.78 210.00L74.45 210.00L74.12 210.00L73.79 210.00L73.46 210.00L73.13 210.00L72.80 210.00L72.47 210.00L72.14 210.00L71.81 210.00L71.48 210.00L71.15 210.00L70.82 210.00L70.49 210.00L70.16 210.00L69.83 210.00L69.50 210.00Z" fill="#0072BD" stroke="#0072BD" stroke-width="1.65" stroke-linejoin="round"/>
<path d="M135.50 208.00L135.65 207.50L135.79 206.99L135.94 206.49L136.09 205.99L136.23 205.48L136.38 204.98L136.53 204.48L136.67 203.97L136.82 203.47L136.97 202.97L137.11 202.47L137.26 201.97L137.41 201.47L137.55 200.98L137.70 200.48L137.85 199.99L137.99 199.49L138.14 199.00L138.29 198.51L138.43 198.02L138.58 197.51L138.73 197.00L138.87 196.49L139.02 195.98L139.17 195.47L139.31 194.97L139.46 194.46L139.61 193.95L139.75 193.44L139.90 192.94L140.05 192.43L140.19 191.93L140.34 191.43L140.49 190.93L140.63 190.43L140.78 189.94L140.93 189.45L141.07 188.96L141.22 188.47L141.37 187.99L141.51 187.51L141.66 187.03L141.81 186.55L141.95 186.07L142.10 185.60L142.25 185.12L142.39 184.61L142.54 184.09L142.69 183.58L142.83 183.06L142.98 182.55L143.13 182.04L143.27 181.53L143.42 181.02L143.57 180.51L143.71 180.01L143.86 179.51L144.01 179.01L144.15 178.52L144.30 178.03L144.45 177.54L144.59 177.06L144.74 176.58L144.89 176.10L145.03 175.63L145.18 175.16L145.33 174.70L145.47 174.24L145.62 173.78L145.77 173.32L145.91 172.87L146.06 172.42L146.21 171.90L146.35 171.39L146.50 170.87L146.65 170.35L146.79 169.84L146.94 169.33L147.09 168.82L147.23 168.31L147.38 167.81L147.53 167.31L147.67 166.82L147.82 166.33L147.97 165.85L148.11 165.37L148.26 164.89L148.41 164.43L148.55 163.96L148.70 163.51L148.85 163.05L148.99 162.61L149.14 162.16L149.29 161.72L149.43 161.29L149.58 160.86L149.73 160.43L149.87 160.00L150.02 159.49L150.17 158.98L150.31 158.47L150.46 157.95L150.61 157.44L150.75 156.94L150.90 156.44L151.05 155.94L151.19 155.44L151.34 154.95L151.49 154.47L151.63 154.00L151.78 153.52L151.93 153.06L152.07 152.60L152.22 152.15L152.37 151.71L152.51 151.28L152.66 150.85L152.81 150.42L152.95 150.00L153.10 149.59L153.25 149.18L153.39 148.78L153.54 148.37L153.69 147.98L153.83 147.49L153.98 146.98L154.13 146.47L154.27 145.97L154.42 145.47L154.57 144.97L154.71 144.48L154.86 143.99L155.01 143.51L155.15 143.03L155.30 142.56L155.45 142.10L155.59 141.65L155.74 141.21L155.89 140.77L156.03 140.34L156.18 139.92L156.33 139.51L156.47 139.11L156.62 138.71L156.77 138.32L156.91 137.93L157.06 137.56L157.21 137.18L157.35 136.81L157.50 136.44L157.65 135.98L157.79 135.49L157.94 134.99L158.09 134.50L158.23 134.01L158.38 133.52L158.53 133.04L158.67 132.57L158.82 132.10L158.97 131.65L159.11 131.20L159.26 130.75L159.41 130.32L159.55 129.90L159.70 129.49L159.85 129.09L159.99 128.69L160.14 128.31L160.29 127.93L160.43 127.57L160.58 127.21L160.73 126.85L160.87 126.51L161.02 126.17L161.17 125.83L161.31 125.50L161.46 125.07L161.61 124.59L161.75 124.11L161.90 123.63L162.05 123.16L162.19 122.69L162.34 122.23L162.49 121.77L162.63 121.33L162.78 120.89L162.93 120.46L163.07 120.04L163.22 119.64L163.37 119.24L163.51 118.85L163.66 118.48L163.81 118.11L163.95 117.76L164.10 117.42L164.25 117.08L164.39 116.76L164.54 116.44L164.69 116.13L164.83 115.82L164.98 115.52L165.13 115.23L165.27 114.85L165.42 114.38L165.57 113.92L165.71 113.46L165.86 113.01L166.01 112.56L166.15 112.12L166.30 111.69L166.45 111.26L166.59 110.85L166.74 110.45L166.89 110.05L167.03 109.67L167.18 109.31L167.33 108.95L167.47 108.61L167.62 108.27L167.77 107.95L167.91 107.65L168.06 107.35L168.21 107.06L168.35 106.78L168.50 106.50L168.65 106.24L168.79 105.98L168.94 105.72L169.09 105.39L169.23 104.95L169.38 104.51L169.53 104.07L169.67 103.64L169.82 103.22L169.97 102.80L170.11 102.39L170.26 102.00L170.41 101.61L170.55 101.24L170.70 100.87L170.85 100.52L170.99 100.19L171.14 99.86L171.29 99.55L171.43 99.26L171.58 98.97L171.73 98.70L171.87 98.44L172.02 98.19L172.17 97.95L172.31 97.71L172.46 97.49L172.61 97.27L172.75 97.05L172.90 96.78L173.05 96.36L173.19 95.95L173.34 95.54L173.49 95.14L173.63 94.74L173.78 94.35L173.93 93.97L174.07 93.60L174.22 93.25L174.37 92.90L174.51 92.57L174.66 92.26L174.81 91.95L174.95 91.67L175.10 91.39L175.25 91.13L175.39 90.89L175.54 90.65L175.69 90.43L175.83 90.22L175.98 90.02L176.13 89.83L176.27 89.65L176.42 89.47L176.57 89.30L176.71 89.08L176.86 88.70L177.01 88.31L177.15 87.93L177.30 87.56L177.45 87.19L177.59 86.84L177.74 86.49L177.89 86.15L178.03 85.83L178.18 85.52L178.33 85.23L178.47 84.94L178.62 84.68L178.77 84.43L178.91 84.19L179.06 83.97L179.21 83.76L179.35 83.57L179.50 83.39L179.65 83.22L179.79 83.07L179.94 82.92L180.09 82.78L180.23 82.65L180.38 82.52L180.53 82.37L180.67 82.02L180.82 81.67L180.97 81.32L181.11 80.98L181.26 80.64L181.41 80.32L181.55 80.01L181.70 79.71L181.85 79.42L181.99 79.15L182.14 78.89L182.29 78.64L182.43 78.42L182.58 78.20L182.73 78.01L182.87 77.83L183.02 77.66L183.17 77.51L183.31 77.37L183.46 77.25L183.61 77.14L183.75 77.03L183.90 76.94L184.05 76.85L184.19 76.77L184.34 76.69L184.49 76.37L184.63 76.06L184.78 75.75L184.93 75.44L185.07 75.14L185.22 74.86L185.37 74.58L185.51 74.32L185.66 74.07L185.81 73.83L185.95 73.61L186.10 73.41L186.25 73.22L186.39 73.05L186.54 72.90L186.69 72.76L186.83 72.63L186.98 72.53L187.13 72.43L187.27 72.35L187.42 72.28L187.57 72.23L187.71 72.18L187.86 72.14L188.01 72.10L188.15 72.07L188.30 71.81L188.45 71.54L188.59 71.26L188.74 71.00L188.89 70.74L189.03 70.49L189.18 70.25L189.33 70.03L189.47 69.82L189.62 69.62L189.77 69.45L189.91 69.28L190.06 69.14L190.21 69.01L190.35 68.89L190.50 68.80L190.65 68.72L190.79 68.66L190.94 68.61L191.09 68.57L191.23 68.55L191.38 68.54L191.53 68.53L191.67 68.54L191.82 68.55L191.97 68.57L192.11 68.38L192.26 68.14L192.41 67.91L192.55 67.68L192.70 67.46L192.85 67.26L192.99 67.06L193.14 66.88L193.29 66.71L193.43 66.56L193.58 66.42L193.73 66.30L193.87 66.19L194.02 66.11L194.17 66.04L194.31 65.99L194.46 65.95L194.61 65.93L194.75 65.93L194.90 65.94L195.05 65.96L195.19 66.00L195.34 66.04L195.49 66.09L195.63 66.15L195.78 66.21L195.93 66.09L196.07 65.89L196.22 65.70L196.37 65.52L196.51 65.35L196.66 65.18L196.81 65.03L196.95 64.89L197.10 64.76L197.25 64.65L197.39 64.56L197.54 64.48L197.69 64.42L197.83 64.38L197.98 64.35L198.13 64.34L198.27 64.35L198.42 64.38L198.57 64.42L198.71 64.48L198.86 64.54L199.01 64.62L199.15 64.71L199.30 64.81L199.45 64.91L199.59 65.02L199.74 64.97L199.89 64.82L200.03 64.67L200.18 64.53L200.33 64.40L200.47 64.28L200.62 64.17L200.77 64.08L200.91 63.99L201.06 63.93L201.21 63.88L201.35 63.84L201.50 63.83L201.65 63.83L201.79 63.85L201.94 63.88L202.09 63.94L202.23 64.01L202.38 64.09L202.53 64.19L202.67 64.30L202.82 64.43L202.97 64.56L203.11 64.70L203.26 64.85L203.41 65.01L203.55 65.03L203.70 64.92L203.85 64.82L203.99 64.73L204.14 64.64L204.29 64.56L204.43 64.50L204.58 64.45L204.73 64.41L204.87 64.39L205.02 64.38L205.17 64.39L205.31 64.42L205.46 64.47L205.61 64.53L205.75 64.61L205.90 64.71L206.05 64.82L206.19 64.95L206.34 65.09L206.49 65.25L206.63 65.42L206.78 65.59L206.93 65.78L207.07 65.97L207.22 66.17L207.37 66.26L207.51 66.21L207.66 66.15L207.81 66.10L207.95 66.06L208.10 66.03L208.25 66.01L208.39 66.00L208.54 66.01L208.69 66.03L208.83 66.07L208.98 66.12L209.13 66.20L209.27 66.29L209.42 66.39L209.57 66.52L209.71 66.66L209.86 66.81L210.01 66.99L210.15 67.17L210.30 67.37L210.45 67.58L210.59 67.80L210.74 68.03L210.89 68.26L211.03 68.50L211.18 68.67L211.33 68.65L211.47 68.64L211.62 68.64L211.77 68.65L211.91 68.66L212.06 68.69L212.21 68.73L212.35 68.78L212.50 68.84L212.65 68.93L212.79 69.02L212.94 69.14L213.09 69.27L213.23 69.42L213.38 69.59L213.53 69.77L213.67 69.97L213.82 70.18L213.97 70.41L214.11 70.65L214.26 70.90L214.41 71.16L214.55 71.43L214.70 71.70L214.85 71.98L214.99 72.21L215.14 72.25L215.29 72.29L215.43 72.33L215.58 72.38L215.73 72.44L215.87 72.51L216.02 72.59L216.17 72.69L216.31 72.80L216.46 72.93L216.61 73.07L216.75 73.23L216.90 73.40L217.05 73.59L217.19 73.80L217.34 74.02L217.49 74.26L217.63 74.51L217.78 74.78L217.93 75.06L218.07 75.35L218.22 75.65L218.37 75.95L218.51 76.27L218.66 76.58L218.81 76.88L218.95 76.96L219.10 77.04L219.25 77.13L219.39 77.23L219.54 77.33L219.69 77.45L219.83 77.58L219.98 77.72L220.13 77.87L220.27 78.04L220.42 78.22L220.57 78.42L220.71 78.64L220.86 78.87L221.01 79.12L221.15 79.38L221.30 79.65L221.45 79.94L221.59 80.25L221.74 80.56L221.89 80.89L222.03 81.22L222.18 81.57L222.33 81.91L222.47 82.27L222.62 82.62L222.77 82.75L222.91 82.88L223.06 83.01L223.21 83.15L223.35 83.30L223.50 83.46L223.65 83.63L223.79 83.82L223.94 84.01L224.09 84.22L224.23 84.45L224.38 84.69L224.53 84.94L224.67 85.21L224.82 85.49L224.97 85.79L225.11 86.10L225.26 86.43L225.41 86.77L225.55 87.12L225.70 87.48L225.85 87.84L225.99 88.22L226.14 88.60L226.29 88.99L226.43 89.37L226.58 89.57L226.73 89.74L226.87 89.92L227.02 90.11L227.17 90.30L227.31 90.50L227.46 90.71L227.61 90.94L227.75 91.17L227.90 91.42L228.05 91.69L228.19 91.96L228.34 92.25L228.49 92.56L228.63 92.88L228.78 93.21L228.93 93.56L229.07 93.92L229.22 94.29L229.37 94.67L229.51 95.06L229.66 95.46L229.81 95.86L229.95 96.27L230.10 96.69L230.25 97.10L230.39 97.36L230.54 97.58L230.69 97.80L230.83 98.03L230.98 98.26L231.13 98.50L231.27 98.76L231.42 99.02L231.57 99.30L231.71 99.58L231.86 99.88L232.01 100.20L232.15 100.52L232.30 100.86L232.45 101.21L232.59 101.58L232.74 101.95L232.89 102.34L233.03 102.74L233.18 103.15L233.33 103.57L233.47 103.99L233.62 104.43L233.77 104.86L233.91 105.31L234.06 105.75L234.21 106.06L234.35 106.32L234.50 106.58L234.65 106.85L234.79 107.13L234.94 107.41L235.09 107.70L235.23 108.00L235.38 108.31L235.53 108.63L235.67 108.97L235.82 109.32L235.97 109.67L236.11 110.04L236.26 110.43L236.41 110.82L236.55 111.22L236.70 111.64L236.85 112.07L236.99 112.50L237.14 112.94L237.29 113.39L237.43 113.85L237.58 114.31L237.73 114.77L237.87 115.24L238.02 115.60L238.17 115.90L238.31 116.20L238.46 116.51L238.61 116.82L238.75 117.14L238.90 117.47L239.05 117.80L239.19 118.15L239.34 118.50L239.49 118.87L239.63 119.25L239.78 119.64L239.93 120.03L240.07 120.44L240.22 120.86L240.37 121.29L240.51 121.73L240.66 122.18L240.81 122.64L240.95 123.10L241.10 123.57L241.25 124.04L241.39 124.52L241.54 125.00L241.69 125.49L241.83 125.90L241.98 126.23L242.13 126.57L242.27 126.91L242.42 127.26L242.57 127.62L242.71 127.98L242.86 128.35L243.01 128.72L243.15 129.11L243.30 129.50L243.45 129.91L243.59 130.32L243.74 130.75L243.89 131.18L244.03 131.62L244.18 132.08L244.33 132.54L244.47 133.00L244.62 133.48L244.77 133.96L244.91 134.44L245.06 134.93L245.21 135.43L245.35 135.92L245.50 136.42L245.65 136.87L245.79 137.24L245.94 137.61L246.09 137.99L246.23 138.37L246.38 138.75L246.53 139.14L246.67 139.54L246.82 139.95L246.97 140.36L247.11 140.78L247.26 141.21L247.41 141.65L247.55 142.10L247.70 142.55L247.85 143.01L247.99 143.48L248.14 143.96L248.29 144.44L248.43 144.93L248.58 145.43L248.73 145.92L248.87 146.43L249.02 146.93L249.17 147.44L249.31 147.95L249.46 148.42L249.61 148.82L249.75 149.23L249.90 149.63L250.05 150.04L250.19 150.46L250.34 150.88L250.49 151.30L250.63 151.73L250.78 152.17L250.93 152.62L251.07 153.07L251.22 153.53L251.37 153.99L251.51 154.46L251.66 154.94L251.81 155.42L251.95 155.91L252.10 156.41L252.25 156.91L252.39 157.41L252.54 157.92L252.69 158.43L252.83 158.94L252.98 159.45L253.13 159.97L253.27 160.47L253.42 160.90L253.57 161.33L253.71 161.76L253.86 162.19L254.01 162.64L254.15 163.08L254.30 163.53L254.45 163.98L254.59 164.44L254.74 164.90L254.89 165.37L255.03 165.85L255.18 166.33L255.33 166.81L255.47 167.30L255.62 167.80L255.77 168.30L255.91 168.80L256.06 169.31L256.21 169.82L256.35 170.33L256.50 170.84L256.65 171.36L256.79 171.87L256.94 172.39L257.09 172.90L257.23 173.35L257.38 173.81L257.53 174.26L257.67 174.72L257.82 175.18L257.97 175.65L258.11 176.12L258.26 176.59L258.41 177.07L258.55 177.55L258.70 178.03L258.85 178.52L258.99 179.01L259.14 179.50L259.29 180.00L259.43 180.50L259.58 181.01L259.73 181.52L259.87 182.02L260.02 182.53L260.17 183.05L260.31 183.56L260.46 184.07L260.61 184.59L260.75 185.10L260.90 185.62L261.05 186.09L261.19 186.57L261.34 187.04L261.49 187.52L261.63 188.00L261.78 188.48L261.93 188.97L262.07 189.46L262.22 189.95L262.37 190.44L262.51 190.93L262.66 191.43L262.81 191.93L262.95 192.43L263.10 192.93L263.25 193.44L263.39 193.94L263.54 194.45L263.69 194.96L263.83 195.47L263.98 195.97L264.13 196.48L264.27 196.99L264.42 197.50L264.57 198.01L264.71 198.52L264.86 199.01L265.01 199.50L265.15 199.99L265.30 200.49L265.45 200.98L265.59 201.48L265.74 201.97L265.89 202.47L266.03 202.97L266.18 203.47L266.33 203.98L266.47 204.48L266.62 204.98L266.77 205.48L266.91 205.99L267.06 206.49L267.21 206.99L267.35 207.50L267.50 208.00L267.50 208.00L267.35 207.50L267.21 207.01L267.06 206.51L266.91 206.02L266.77 205.52L266.62 205.03L266.47 204.54L266.33 204.04L266.18 203.55L266.03 203.06L265.89 202.57L265.74 202.08L265.59 201.59L265.45 201.10L265.30 200.60L265.15 200.11L265.01 199.62L264.86 199.12L264.71 198.63L264.57 198.13L264.42 197.63L264.27 197.13L264.13 196.63L263.98 196.13L263.83 195.62L263.69 195.12L263.54 194.61L263.39 194.10L263.25 193.62L263.10 193.14L262.95 192.66L262.81 192.18L262.66 191.70L262.51 191.22L262.37 190.74L262.22 190.26L262.07 189.78L261.93 189.30L261.78 188.82L261.63 188.33L261.49 187.84L261.34 187.35L261.19 186.86L261.05 186.37L260.90 185.87L260.75 185.37L260.61 184.87L260.46 184.37L260.31 183.87L260.17 183.36L260.02 182.85L259.87 182.34L259.73 181.83L259.58 181.32L259.43 180.85L259.29 180.38L259.14 179.92L258.99 179.46L258.85 179.00L258.70 178.54L258.55 178.07L258.41 177.61L258.26 177.14L258.11 176.67L257.97 176.20L257.82 175.73L257.67 175.25L257.53 174.77L257.38 174.28L257.23 173.80L257.09 173.30L256.94 172.81L256.79 172.31L256.65 171.81L256.50 171.31L256.35 170.80L256.21 170.29L256.06 169.78L255.91 169.26L255.77 168.75L255.62 168.29L255.47 167.85L255.33 167.41L255.18 166.97L255.03 166.53L254.89 166.09L254.74 165.65L254.59 165.20L254.45 164.75L254.30 164.30L254.15 163.85L254.01 163.39L253.86 162.92L253.71 162.45L253.57 161.98L253.42 161.50L253.27 161.02L253.13 160.53L252.98 160.04L252.83 159.55L252.69 159.05L252.54 158.55L252.39 158.04L252.25 157.53L252.10 157.02L251.95 156.51L251.81 156.06L251.66 155.65L251.51 155.24L251.37 154.82L251.22 154.41L251.07 153.99L250.93 153.57L250.78 153.15L250.63 152.72L250.49 152.29L250.34 151.86L250.19 151.41L250.05 150.97L249.90 150.52L249.75 150.06L249.61 149.60L249.46 149.13L249.31 148.65L249.17 148.17L249.02 147.69L248.87 147.20L248.73 146.70L248.58 146.20L248.43 145.70L248.29 145.20L248.14 144.70L247.99 144.26L247.85 143.88L247.70 143.49L247.55 143.11L247.41 142.72L247.26 142.33L247.11 141.94L246.97 141.54L246.82 141.14L246.67 140.74L246.53 140.33L246.38 139.91L246.23 139.48L246.09 139.05L245.94 138.61L245.79 138.17L245.65 137.72L245.50 137.26L245.35 136.79L245.21 136.32L245.06 135.85L244.91 135.36L244.77 134.88L244.62 134.39L244.47 133.90L244.33 133.41L244.18 132.98L244.03 132.63L243.89 132.28L243.74 131.92L243.59 131.57L243.45 131.21L243.30 130.85L243.15 130.48L243.01 130.11L242.86 129.74L242.71 129.35L242.57 128.96L242.42 128.56L242.27 128.16L242.13 127.74L241.98 127.32L241.83 126.89L241.69 126.45L241.54 126.00L241.39 125.55L241.25 125.09L241.10 124.63L240.95 124.16L240.81 123.69L240.66 123.21L240.51 122.73L240.37 122.32L240.22 122.00L240.07 121.68L239.93 121.36L239.78 121.04L239.63 120.72L239.49 120.39L239.34 120.06L239.19 119.72L239.05 119.38L238.90 119.03L238.75 118.66L238.61 118.29L238.46 117.92L238.31 117.53L238.17 117.13L238.02 116.73L237.87 116.31L237.73 115.89L237.58 115.46L237.43 115.02L237.29 114.58L237.14 114.13L236.99 113.68L236.85 113.22L236.70 112.76L236.55 112.35L236.41 112.07L236.26 111.80L236.11 111.52L235.97 111.23L235.82 110.95L235.67 110.66L235.53 110.36L235.38 110.06L235.23 109.75L235.09 109.43L234.94 109.10L234.79 108.76L234.65 108.42L234.50 108.06L234.35 107.69L234.21 107.32L234.06 106.93L233.91 106.53L233.77 106.13L233.62 105.72L233.47 105.30L233.33 104.87L233.18 104.45L233.03 104.01L232.89 103.58L232.74 103.18L232.59 102.94L232.45 102.70L232.30 102.46L232.15 102.22L232.01 101.97L231.86 101.72L231.71 101.47L231.57 101.20L231.42 100.93L231.27 100.65L231.13 100.35L230.98 100.05L230.83 99.74L230.69 99.41L230.54 99.08L230.39 98.73L230.25 98.38L230.10 98.01L229.95 97.64L229.81 97.26L229.66 96.87L229.51 96.47L229.37 96.07L229.22 95.66L229.07 95.26L228.93 94.86L228.78 94.67L228.63 94.47L228.49 94.27L228.34 94.07L228.19 93.87L228.05 93.66L227.90 93.44L227.75 93.22L227.61 92.99L227.46 92.74L227.31 92.49L227.17 92.23L227.02 91.95L226.87 91.66L226.73 91.36L226.58 91.05L226.43 90.73L226.29 90.40L226.14 90.06L225.99 89.71L225.85 89.35L225.70 88.98L225.55 88.61L225.41 88.24L225.26 87.86L225.11 87.49L224.97 87.32L224.82 87.17L224.67 87.02L224.53 86.86L224.38 86.70L224.23 86.54L224.09 86.36L223.94 86.18L223.79 85.99L223.65 85.79L223.50 85.58L223.35 85.35L223.21 85.12L223.06 84.87L222.91 84.61L222.77 84.34L222.62 84.05L222.47 83.76L222.33 83.45L222.18 83.13L222.03 82.81L221.89 82.48L221.74 82.14L221.59 81.80L221.45 81.46L221.30 81.11L221.15 80.98L221.01 80.87L220.86 80.76L220.71 80.65L220.57 80.54L220.42 80.41L220.27 80.29L220.13 80.15L219.98 80.00L219.83 79.84L219.69 79.67L219.54 79.49L219.39 79.30L219.25 79.09L219.10 78.87L218.95 78.64L218.81 78.39L218.66 78.13L218.51 77.87L218.37 77.59L218.22 77.30L218.07 77.01L217.93 76.71L217.78 76.40L217.63 76.10L217.49 75.79L217.34 75.67L217.19 75.61L217.05 75.55L216.90 75.48L216.75 75.42L216.61 75.34L216.46 75.26L216.31 75.17L216.17 75.06L216.02 74.95L215.87 74.82L215.73 74.69L215.58 74.54L215.43 74.37L215.29 74.19L215.14 74.00L214.99 73.80L214.85 73.58L214.70 73.35L214.55 73.12L214.41 72.87L214.26 72.62L214.11 72.36L213.97 72.09L213.82 71.82L213.67 71.55L213.53 71.45L213.38 71.44L213.23 71.43L213.09 71.41L212.94 71.39L212.79 71.36L212.65 71.32L212.50 71.27L212.35 71.22L212.21 71.15L212.06 71.07L211.91 70.98L211.77 70.87L211.62 70.75L211.47 70.62L211.33 70.47L211.18 70.31L211.03 70.14L210.89 69.95L210.74 69.76L210.59 69.55L210.45 69.34L210.30 69.12L210.15 68.90L210.01 68.67L209.86 68.44L209.71 68.36L209.57 68.39L209.42 68.43L209.27 68.45L209.13 68.48L208.98 68.50L208.83 68.51L208.69 68.51L208.54 68.50L208.39 68.48L208.25 68.44L208.10 68.40L207.95 68.34L207.81 68.26L207.66 68.17L207.51 68.07L207.37 67.95L207.22 67.83L207.07 67.69L206.93 67.53L206.78 67.37L206.63 67.20L206.49 67.03L206.34 66.85L206.19 66.66L206.05 66.48L205.90 66.42L205.75 66.50L205.61 66.57L205.46 66.65L205.31 66.72L205.17 66.79L205.02 66.84L204.87 66.89L204.73 66.93L204.58 66.95L204.43 66.97L204.29 66.97L204.14 66.95L203.99 66.92L203.85 66.88L203.70 66.82L203.55 66.75L203.41 66.67L203.26 66.57L203.11 66.47L202.97 66.35L202.82 66.23L202.67 66.10L202.53 65.96L202.38 65.82L202.23 65.68L202.09 65.64L201.94 65.76L201.79 65.89L201.65 66.01L201.50 66.13L201.35 66.24L201.21 66.34L201.06 66.43L200.91 66.52L200.77 66.59L200.62 66.65L200.47 66.69L200.33 66.73L200.18 66.74L200.03 66.75L199.89 66.74L199.74 66.71L199.59 66.68L199.45 66.63L199.30 66.57L199.15 66.50L199.01 66.42L198.86 66.33L198.71 66.24L198.57 66.15L198.42 66.05L198.27 66.03L198.13 66.20L197.98 66.37L197.83 66.54L197.69 66.70L197.54 66.86L197.39 67.00L197.25 67.14L197.10 67.27L196.95 67.39L196.81 67.49L196.66 67.59L196.51 67.66L196.37 67.73L196.22 67.78L196.07 67.81L195.93 67.84L195.78 67.85L195.63 67.84L195.49 67.83L195.34 67.81L195.19 67.77L195.05 67.74L194.90 67.69L194.75 67.65L194.61 67.60L194.46 67.59L194.31 67.80L194.17 68.02L194.02 68.23L193.87 68.43L193.73 68.63L193.58 68.83L193.43 69.01L193.29 69.19L193.14 69.35L192.99 69.50L192.85 69.63L192.70 69.76L192.55 69.87L192.41 69.96L192.26 70.04L192.11 70.11L191.97 70.17L191.82 70.21L191.67 70.25L191.53 70.27L191.38 70.28L191.23 70.29L191.09 70.30L190.94 70.30L190.79 70.29L190.65 70.31L190.50 70.56L190.35 70.82L190.21 71.07L190.06 71.32L189.91 71.56L189.77 71.80L189.62 72.02L189.47 72.24L189.33 72.45L189.18 72.64L189.03 72.82L188.89 72.99L188.74 73.14L188.59 73.28L188.45 73.41L188.30 73.52L188.15 73.63L188.01 73.72L187.86 73.80L187.71 73.87L187.57 73.93L187.42 73.98L187.27 74.03L187.13 74.08L186.98 74.12L186.83 74.17L186.69 74.45L186.54 74.75L186.39 75.04L186.25 75.33L186.10 75.61L185.95 75.89L185.81 76.16L185.66 76.41L185.51 76.66L185.37 76.90L185.22 77.12L185.07 77.33L184.93 77.53L184.78 77.71L184.63 77.88L184.49 78.04L184.34 78.19L184.19 78.32L184.05 78.45L183.90 78.57L183.75 78.67L183.61 78.77L183.46 78.87L183.31 78.96L183.17 79.06L183.02 79.15L182.87 79.45L182.73 79.78L182.58 80.11L182.43 80.43L182.29 80.75L182.14 81.07L181.99 81.37L181.85 81.67L181.70 81.96L181.55 82.23L181.41 82.50L181.26 82.75L181.11 82.99L180.97 83.21L180.82 83.43L180.67 83.63L180.53 83.82L180.38 84.00L180.23 84.17L180.09 84.33L179.94 84.48L179.79 84.63L179.65 84.77L179.50 84.91L179.35 85.05L179.21 85.18L179.06 85.50L178.91 85.86L178.77 86.23L178.62 86.59L178.47 86.94L178.33 87.29L178.18 87.63L178.03 87.97L177.89 88.29L177.74 88.60L177.59 88.91L177.45 89.20L177.30 89.47L177.15 89.74L177.01 90.00L176.86 90.24L176.71 90.47L176.57 90.69L176.42 90.91L176.27 91.11L176.13 91.31L175.98 91.50L175.83 91.68L175.69 91.87L175.54 92.05L175.39 92.23L175.25 92.56L175.10 92.95L174.95 93.35L174.81 93.74L174.66 94.13L174.51 94.51L174.37 94.89L174.22 95.25L174.07 95.61L173.93 95.96L173.78 96.30L173.63 96.62L173.49 96.94L173.34 97.24L173.19 97.54L173.05 97.82L172.90 98.09L172.75 98.35L172.61 98.61L172.46 98.85L172.31 99.09L172.17 99.33L172.02 99.55L171.87 99.78L171.73 100.00L171.58 100.23L171.43 100.57L171.29 100.99L171.14 101.42L170.99 101.84L170.85 102.25L170.70 102.66L170.55 103.07L170.41 103.47L170.26 103.86L170.11 104.24L169.97 104.61L169.82 104.97L169.67 105.32L169.53 105.65L169.38 105.98L169.23 106.30L169.09 106.61L168.94 106.91L168.79 107.21L168.65 107.49L168.50 107.77L168.35 108.05L168.21 108.31L168.06 108.58L167.91 108.85L167.77 109.11L167.62 109.46L167.47 109.91L167.33 110.36L167.18 110.81L167.03 111.25L166.89 111.69L166.74 112.12L166.59 112.54L166.45 112.96L166.30 113.37L166.15 113.77L166.01 114.16L165.86 114.54L165.71 114.91L165.57 115.27L165.42 115.63L165.27 115.97L165.13 116.31L164.98 116.64L164.83 116.96L164.69 117.27L164.54 117.59L164.39 117.89L164.25 118.20L164.10 118.50L163.95 118.81L163.81 119.17L163.66 119.64L163.51 120.11L163.37 120.58L163.22 121.04L163.07 121.50L162.93 121.96L162.78 122.41L162.63 122.85L162.49 123.28L162.34 123.70L162.19 124.12L162.05 124.53L161.90 124.93L161.75 125.32L161.61 125.71L161.46 126.08L161.31 126.45L161.17 126.81L161.02 127.17L160.87 127.52L160.73 127.87L160.58 128.21L160.43 128.56L160.29 128.90L160.14 129.24L159.99 129.62L159.85 130.10L159.70 130.59L159.55 131.08L159.41 131.56L159.26 132.03L159.11 132.51L158.97 132.97L158.82 133.43L158.67 133.89L158.53 134.34L158.38 134.78L158.23 135.21L158.09 135.64L157.94 136.05L157.79 136.47L157.65 136.87L157.50 137.27L157.35 137.66L157.21 138.05L157.06 138.43L156.91 138.81L156.77 139.19L156.62 139.56L156.47 139.94L156.33 140.31L156.18 140.71L156.03 141.21L155.89 141.71L155.74 142.20L155.59 142.70L155.45 143.19L155.30 143.68L155.15 144.16L155.01 144.64L154.86 145.11L154.71 145.58L154.57 146.03L154.42 146.49L154.27 146.94L154.13 147.38L153.98 147.81L153.83 148.24L153.69 148.67L153.54 149.09L153.39 149.50L153.25 149.91L153.10 150.32L152.95 150.73L152.81 151.13L152.66 151.54L152.51 151.94L152.37 152.35L152.22 152.86L152.07 153.37L151.93 153.88L151.78 154.38L151.63 154.88L151.49 155.38L151.34 155.87L151.19 156.36L151.05 156.85L150.90 157.33L150.75 157.80L150.61 158.27L150.46 158.74L150.31 159.20L150.17 159.65L150.02 160.10L149.87 160.55L149.73 160.99L149.58 161.43L149.43 161.87L149.29 162.30L149.14 162.74L148.99 163.17L148.85 163.60L148.70 164.03L148.55 164.46L148.41 164.97L148.26 165.49L148.11 166.00L147.97 166.51L147.82 167.01L147.67 167.52L147.53 168.02L147.38 168.52L147.23 169.01L147.09 169.50L146.94 169.99L146.79 170.47L146.65 170.95L146.50 171.42L146.35 171.89L146.21 172.36L146.06 172.82L145.91 173.29L145.77 173.75L145.62 174.20L145.47 174.66L145.33 175.12L145.18 175.57L145.03 176.02L144.89 176.48L144.74 176.93L144.59 177.44L144.45 177.95L144.30 178.47L144.15 178.98L144.01 179.48L143.86 179.99L143.71 180.49L143.57 180.99L143.42 181.49L143.27 181.99L143.13 182.48L142.98 182.97L142.83 183.46L142.69 183.94L142.54 184.43L142.39 184.91L142.25 185.39L142.10 185.86L141.95 186.34L141.81 186.81L141.66 187.29L141.51 187.76L141.37 188.24L141.22 188.71L141.07 189.18L140.93 189.66L140.78 190.16L140.63 190.67L140.49 191.18L140.34 191.69L140.19 192.19L140.05 192.69L139.90 193.20L139.75 193.70L139.61 194.20L139.46 194.69L139.31 195.19L139.17 195.68L139.02 196.17L138.87 196.67L138.73 197.16L138.58 197.65L138.43 198.13L138.29 198.62L138.14 199.11L137.99 199.60L137.85 200.09L137.70 200.57L137.55 201.06L137.41 201.55L137.26 202.04L137.11 202.53L136.97 203.03L136.82 203.53L136.67 204.03L136.53 204.53L136.38 205.03L136.23 205.53L136.09 206.02L135.94 206.52L135.79 207.01L135.65 207.51L135.50 208.00ZM333.50 208.00L333.65 208.50L333.79 209.00L333.94 209.49L334.09 209.99L334.23 210.48L334.38 210.97L334.53 211.47L334.67 211.96L334.82 212.45L334.97 212.95L335.11 213.44L335.26 213.93L335.41 214.42L335.55 214.92L335.70 215.41L335.85 215.90L335.99 216.40L336.14 216.90L336.29 217.40L336.43 217.90L336.58 218.40L336.73 218.90L336.87 219.40L337.02 219.91L337.17 220.41L337.31 220.92L337.46 221.43L337.61 221.91L337.75 222.39L337.90 222.87L338.05 223.35L338.19 223.83L338.34 224.32L338.49 224.80L338.63 225.28L338.78 225.76L338.93 226.24L339.07 226.73L339.22 227.22L339.37 227.70L339.51 228.19L339.66 228.69L339.81 229.18L339.95 229.68L340.10 230.18L340.25 230.68L340.39 231.18L340.54 231.69L340.69 232.20L340.83 232.71L340.98 233.22L341.13 233.73L341.27 234.24L341.42 234.71L341.57 235.18L341.71 235.64L341.86 236.10L342.01 236.57L342.15 237.03L342.30 237.49L342.45 237.96L342.59 238.43L342.74 238.90L342.89 239.37L343.03 239.85L343.18 240.33L343.33 240.81L343.47 241.30L343.62 241.79L343.77 242.28L343.91 242.77L344.06 243.27L344.21 243.78L344.35 244.28L344.50 244.79L344.65 245.30L344.79 245.81L344.94 246.33L345.09 246.84L345.23 247.30L345.38 247.74L345.53 248.18L345.67 248.62L345.82 249.06L345.97 249.51L346.11 249.95L346.26 250.40L346.41 250.85L346.55 251.30L346.70 251.76L346.85 252.22L346.99 252.69L347.14 253.16L347.29 253.63L347.43 254.11L347.58 254.60L347.73 255.08L347.87 255.58L348.02 256.07L348.17 256.57L348.31 257.08L348.46 257.58L348.61 258.09L348.75 258.60L348.90 259.12L349.05 259.56L349.19 259.98L349.34 260.39L349.49 260.81L349.63 261.23L349.78 261.65L349.93 262.07L350.07 262.49L350.22 262.92L350.37 263.35L350.51 263.79L350.66 264.23L350.81 264.68L350.95 265.13L351.10 265.59L351.25 266.06L351.39 266.53L351.54 267.00L351.69 267.49L351.83 267.97L351.98 268.46L352.13 268.96L352.27 269.46L352.42 269.96L352.57 270.46L352.71 270.97L352.86 271.40L353.01 271.79L353.15 272.18L353.30 272.56L353.45 272.95L353.59 273.34L353.74 273.74L353.89 274.14L354.03 274.54L354.18 274.95L354.33 275.36L354.47 275.78L354.62 276.21L354.77 276.64L354.91 277.08L355.06 277.52L355.21 277.98L355.35 278.44L355.50 278.91L355.65 279.38L355.79 279.86L355.94 280.34L356.09 280.83L356.23 281.32L356.38 281.81L356.53 282.30L356.67 282.73L356.82 283.08L356.97 283.43L357.11 283.79L357.26 284.15L357.41 284.50L357.55 284.87L357.70 285.24L357.85 285.61L357.99 285.99L358.14 286.37L358.29 286.77L358.43 287.17L358.58 287.58L358.73 287.99L358.87 288.42L359.02 288.85L359.17 289.29L359.31 289.74L359.46 290.19L359.61 290.65L359.75 291.12L359.90 291.59L360.05 292.06L360.19 292.54L360.34 293.02L360.49 293.43L360.63 293.75L360.78 294.07L360.93 294.39L361.07 294.71L361.22 295.04L361.37 295.37L361.51 295.70L361.66 296.04L361.81 296.39L361.95 296.75L362.10 297.11L362.25 297.48L362.39 297.86L362.54 298.25L362.69 298.65L362.83 299.06L362.98 299.48L363.13 299.90L363.27 300.33L363.42 300.77L363.57 301.22L363.71 301.67L363.86 302.12L364.01 302.58L364.15 303.04L364.30 303.44L364.45 303.72L364.59 304.00L364.74 304.29L364.89 304.57L365.03 304.86L365.18 305.15L365.33 305.45L365.47 305.75L365.62 306.07L365.77 306.39L365.91 306.72L366.06 307.06L366.21 307.41L366.35 307.77L366.50 308.14L366.65 308.52L366.79 308.91L366.94 309.30L367.09 309.71L367.23 310.12L367.38 310.54L367.53 310.97L367.67 311.40L367.82 311.83L367.97 312.27L368.11 312.67L368.26 312.91L368.41 313.15L368.55 313.39L368.70 313.63L368.85 313.88L368.99 314.13L369.14 314.39L369.29 314.66L369.43 314.94L369.58 315.22L369.73 315.51L369.87 315.82L370.02 316.13L370.17 316.46L370.31 316.80L370.46 317.15L370.61 317.50L370.75 317.87L370.90 318.25L371.05 318.63L371.19 319.03L371.34 319.42L371.49 319.83L371.63 320.23L371.78 320.64L371.93 321.03L372.07 321.23L372.22 321.43L372.37 321.63L372.51 321.83L372.66 322.03L372.81 322.24L372.95 322.46L373.10 322.69L373.25 322.93L373.39 323.17L373.54 323.43L373.69 323.69L373.83 323.97L373.98 324.26L374.13 324.56L374.27 324.88L374.42 325.20L374.57 325.53L374.71 325.88L374.86 326.23L375.01 326.59L375.15 326.96L375.30 327.33L375.45 327.71L375.59 328.09L375.74 328.46L375.89 328.62L376.03 328.77L376.18 328.93L376.33 329.09L376.47 329.25L376.62 329.42L376.77 329.59L376.91 329.78L377.06 329.97L377.21 330.17L377.35 330.39L377.50 330.62L377.65 330.85L377.79 331.10L377.94 331.37L378.09 331.64L378.23 331.93L378.38 332.23L378.53 332.54L378.67 332.86L378.82 333.18L378.97 333.51L379.11 333.85L379.26 334.20L379.41 334.54L379.55 334.89L379.70 335.02L379.85 335.13L379.99 335.24L380.14 335.35L380.29 335.47L380.43 335.59L380.58 335.72L380.73 335.86L380.87 336.01L381.02 336.17L381.17 336.34L381.31 336.53L381.46 336.73L381.61 336.94L381.75 337.16L381.90 337.39L382.05 337.64L382.19 337.90L382.34 338.17L382.49 338.45L382.63 338.74L382.78 339.04L382.93 339.34L383.07 339.64L383.22 339.95L383.37 340.26L383.51 340.37L383.66 340.44L383.81 340.50L383.95 340.57L384.10 340.64L384.25 340.72L384.39 340.80L384.54 340.89L384.69 341.00L384.83 341.12L384.98 341.24L385.13 341.38L385.27 341.54L385.42 341.70L385.57 341.88L385.71 342.08L385.86 342.28L386.01 342.50L386.15 342.73L386.30 342.97L386.45 343.22L386.59 343.48L386.74 343.74L386.89 344.01L387.03 344.28L387.18 344.55L387.33 344.64L387.47 344.66L387.62 344.67L387.77 344.69L387.91 344.72L388.06 344.75L388.21 344.79L388.35 344.83L388.50 344.89L388.65 344.96L388.79 345.05L388.94 345.14L389.09 345.25L389.23 345.37L389.38 345.51L389.53 345.66L389.67 345.82L389.82 346.00L389.97 346.18L390.11 346.38L390.26 346.59L390.41 346.80L390.55 347.02L390.70 347.25L390.85 347.48L390.99 347.71L391.14 347.78L391.29 347.75L391.43 347.72L391.58 347.69L391.73 347.67L391.87 347.66L392.02 347.65L392.17 347.65L392.31 347.66L392.46 347.68L392.61 347.72L392.75 347.77L392.90 347.83L393.05 347.91L393.19 348.00L393.34 348.11L393.49 348.23L393.63 348.36L393.78 348.50L393.93 348.65L394.07 348.82L394.22 348.99L394.37 349.17L394.51 349.35L394.66 349.53L394.81 349.72L394.95 349.77L395.10 349.70L395.25 349.62L395.39 349.55L395.54 349.48L395.69 349.41L395.83 349.36L395.98 349.31L396.13 349.28L396.27 349.26L396.42 349.25L396.57 349.25L396.71 349.27L396.86 349.30L397.01 349.34L397.15 349.40L397.30 349.47L397.45 349.56L397.59 349.66L397.74 349.77L397.89 349.88L398.03 350.01L398.18 350.14L398.33 350.28L398.47 350.42L398.62 350.56L398.77 350.60L398.91 350.48L399.06 350.35L399.21 350.23L399.35 350.12L399.50 350.01L399.65 349.91L399.79 349.82L399.94 349.74L400.09 349.67L400.23 349.61L400.38 349.57L400.53 349.54L400.67 349.52L400.82 349.52L400.97 349.53L401.11 349.56L401.26 349.60L401.41 349.65L401.55 349.71L401.70 349.78L401.85 349.86L401.99 349.95L402.14 350.04L402.29 350.14L402.43 350.24L402.58 350.25L402.73 350.08L402.87 349.92L403.02 349.75L403.17 349.59L403.31 349.44L403.46 349.29L403.61 349.15L403.75 349.02L403.90 348.91L404.05 348.81L404.19 348.72L404.34 348.64L404.49 348.58L404.63 348.53L404.78 348.50L404.93 348.48L405.07 348.47L405.22 348.48L405.37 348.49L405.51 348.52L405.66 348.55L405.81 348.59L405.95 348.64L406.10 348.68L406.25 348.74L406.39 348.73L406.54 348.52L406.69 348.31L406.83 348.10L406.98 347.90L407.13 347.70L407.27 347.51L407.42 347.32L407.57 347.15L407.71 346.99L407.86 346.84L408.01 346.71L408.15 346.59L408.30 346.48L408.45 346.39L408.59 346.31L408.74 346.24L408.89 346.19L409.03 346.15L409.18 346.11L409.33 346.09L409.47 346.08L409.62 346.07L409.77 346.07L409.91 346.07L410.06 346.08L410.21 346.06L410.35 345.80L410.50 345.55L410.65 345.30L410.79 345.05L410.94 344.81L411.09 344.58L411.23 344.35L411.38 344.14L411.53 343.93L411.67 343.74L411.82 343.56L411.97 343.40L412.11 343.24L412.26 343.10L412.41 342.98L412.55 342.87L412.70 342.77L412.85 342.68L412.99 342.60L413.14 342.53L413.29 342.47L413.43 342.42L413.58 342.37L413.73 342.33L413.87 342.28L414.02 342.24L414.17 341.95L414.31 341.65L414.46 341.36L414.61 341.08L414.75 340.79L414.90 340.52L415.05 340.25L415.19 340.00L415.34 339.75L415.49 339.52L415.63 339.30L415.78 339.09L415.93 338.89L416.07 338.71L416.22 338.54L416.37 338.38L416.51 338.24L416.66 338.11L416.81 337.98L416.95 337.87L417.10 337.76L417.25 337.66L417.39 337.57L417.54 337.48L417.69 337.39L417.83 337.30L417.98 336.99L418.13 336.66L418.27 336.33L418.42 336.00L418.57 335.69L418.71 335.37L418.86 335.07L419.01 334.77L419.15 334.49L419.30 334.21L419.45 333.95L419.59 333.70L419.74 333.46L419.89 333.24L420.03 333.03L420.18 332.83L420.33 332.64L420.47 332.46L420.62 332.29L420.77 332.13L420.91 331.98L421.06 331.84L421.21 331.70L421.35 331.56L421.50 331.42L421.65 331.29L421.79 330.97L421.94 330.60L422.09 330.24L422.23 329.88L422.38 329.53L422.53 329.18L422.67 328.84L422.82 328.50L422.97 328.18L423.11 327.87L423.26 327.57L423.41 327.28L423.55 327.00L423.70 326.74L423.85 326.49L423.99 326.24L424.14 326.01L424.29 325.79L424.43 325.58L424.58 325.38L424.73 325.18L424.87 324.99L425.02 324.81L425.17 324.63L425.31 324.45L425.46 324.27L425.61 323.93L425.75 323.54L425.90 323.14L426.05 322.75L426.19 322.36L426.34 321.98L426.49 321.61L426.63 321.24L426.78 320.89L426.93 320.54L427.07 320.20L427.22 319.88L427.37 319.56L427.51 319.26L427.66 318.97L427.81 318.69L427.95 318.42L428.10 318.15L428.25 317.90L428.39 317.66L428.54 317.42L428.69 317.19L428.83 316.96L428.98 316.74L429.13 316.51L429.27 316.29L429.42 315.94L429.57 315.52L429.71 315.10L429.86 314.68L430.01 314.26L430.15 313.85L430.30 313.44L430.45 313.05L430.59 312.66L430.74 312.28L430.89 311.91L431.03 311.55L431.18 311.20L431.33 310.87L431.47 310.54L431.62 310.22L431.77 309.91L431.91 309.61L432.06 309.32L432.21 309.04L432.35 308.76L432.50 308.49L432.65 308.22L432.79 307.95L432.94 307.69L433.09 307.42L433.23 307.06L433.38 306.61L433.53 306.17L433.67 305.72L433.82 305.28L433.97 304.84L434.11 304.41L434.26 303.99L434.41 303.57L434.55 303.17L434.70 302.77L434.85 302.38L434.99 302.00L435.14 301.63L435.29 301.26L435.43 300.91L435.58 300.57L435.73 300.23L435.87 299.91L436.02 299.58L436.17 299.27L436.31 298.96L436.46 298.65L436.61 298.35L436.75 298.04L436.90 297.74L437.05 297.37L437.19 296.90L437.34 296.43L437.49 295.96L437.63 295.50L437.78 295.04L437.93 294.59L438.07 294.14L438.22 293.70L438.37 293.26L438.51 292.84L438.66 292.42L438.81 292.02L438.95 291.62L439.10 291.22L439.25 290.84L439.39 290.47L439.54 290.10L439.69 289.74L439.83 289.38L439.98 289.03L440.13 288.68L440.27 288.34L440.42 288.00L440.57 287.66L440.71 287.32L440.86 286.93L441.01 286.45L441.15 285.96L441.30 285.47L441.45 284.99L441.59 284.52L441.74 284.04L441.89 283.58L442.03 283.12L442.18 282.66L442.33 282.21L442.47 281.77L442.62 281.34L442.77 280.92L442.91 280.50L443.06 280.09L443.21 279.68L443.35 279.29L443.50 278.89L443.65 278.51L443.79 278.12L443.94 277.74L444.09 277.37L444.23 276.99L444.38 276.62L444.53 276.25L444.67 275.85L444.82 275.35L444.97 274.85L445.11 274.35L445.26 273.85L445.41 273.36L445.55 272.88L445.70 272.39L445.85 271.92L445.99 271.44L446.14 270.98L446.29 270.52L446.43 270.06L446.58 269.62L446.73 269.18L446.87 268.74L447.02 268.31L447.17 267.89L447.31 267.47L447.46 267.05L447.61 266.64L447.75 266.23L447.90 265.83L448.05 265.42L448.19 265.02L448.34 264.62L448.49 264.20L448.63 263.69L448.78 263.18L448.93 262.68L449.07 262.17L449.22 261.67L449.37 261.17L449.51 260.68L449.66 260.19L449.81 259.70L449.95 259.22L450.10 258.75L450.25 258.28L450.39 257.81L450.54 257.35L450.69 256.90L450.83 256.45L450.98 256.00L451.13 255.56L451.27 255.12L451.42 254.68L451.57 254.25L451.71 253.82L451.86 253.38L452.01 252.95L452.15 252.52L452.30 252.09L452.45 251.57L452.59 251.06L452.74 250.55L452.89 250.04L453.03 249.53L453.18 249.03L453.33 248.53L453.47 248.03L453.62 247.53L453.77 247.04L453.91 246.56L454.06 246.07L454.21 245.60L454.35 245.12L454.50 244.65L454.65 244.18L454.79 243.72L454.94 243.26L455.09 242.80L455.23 242.34L455.38 241.88L455.53 241.43L455.67 240.97L455.82 240.52L455.97 240.06L456.11 239.61L456.26 239.10L456.41 238.58L456.55 238.07L456.70 237.56L456.85 237.05L456.99 236.54L457.14 236.04L457.29 235.54L457.43 235.04L457.58 234.54L457.73 234.05L457.87 233.56L458.02 233.07L458.17 232.59L458.31 232.10L458.46 231.62L458.61 231.14L458.75 230.66L458.90 230.19L459.05 229.71L459.19 229.24L459.34 228.76L459.49 228.29L459.63 227.82L459.78 227.34L459.93 226.87L460.07 226.36L460.22 225.85L460.37 225.34L460.51 224.84L460.66 224.33L460.81 223.83L460.95 223.32L461.10 222.82L461.25 222.32L461.39 221.82L461.54 221.33L461.69 220.83L461.83 220.34L461.98 219.85L462.13 219.36L462.27 218.87L462.42 218.38L462.57 217.89L462.71 217.40L462.86 216.91L463.01 216.42L463.15 215.93L463.30 215.44L463.45 214.95L463.59 214.46L463.74 213.97L463.89 213.47L464.03 212.97L464.18 212.47L464.33 211.97L464.47 211.47L464.62 210.97L464.77 210.48L464.91 209.98L465.06 209.48L465.21 208.99L465.35 208.49L465.50 208.00L465.50 208.00L465.35 208.50L465.21 209.01L465.06 209.51L464.91 210.01L464.77 210.52L464.62 211.02L464.47 211.53L464.33 212.03L464.18 212.54L464.03 213.04L463.89 213.54L463.74 214.04L463.59 214.54L463.45 215.04L463.30 215.54L463.15 216.03L463.01 216.53L462.86 217.02L462.71 217.51L462.57 218.01L462.42 218.50L462.27 219.01L462.13 219.52L461.98 220.03L461.83 220.54L461.69 221.05L461.54 221.56L461.39 222.07L461.25 222.58L461.10 223.08L460.95 223.59L460.81 224.10L460.66 224.60L460.51 225.10L460.37 225.60L460.22 226.10L460.07 226.59L459.93 227.08L459.78 227.57L459.63 228.06L459.49 228.55L459.34 229.03L459.19 229.51L459.05 229.98L458.90 230.46L458.75 230.93L458.61 231.41L458.46 231.93L458.31 232.44L458.17 232.96L458.02 233.47L457.87 233.99L457.73 234.50L457.58 235.01L457.43 235.52L457.29 236.03L457.14 236.53L456.99 237.03L456.85 237.53L456.70 238.03L456.55 238.52L456.41 239.01L456.26 239.49L456.11 239.97L455.97 240.44L455.82 240.92L455.67 241.38L455.53 241.85L455.38 242.31L455.23 242.77L455.09 243.22L454.94 243.68L454.79 244.13L454.65 244.64L454.50 245.16L454.35 245.68L454.21 246.19L454.06 246.71L453.91 247.22L453.77 247.73L453.62 248.24L453.47 248.74L453.33 249.24L453.18 249.73L453.03 250.22L452.89 250.71L452.74 251.19L452.59 251.66L452.45 252.13L452.30 252.59L452.15 253.05L452.01 253.50L451.86 253.95L451.71 254.39L451.57 254.83L451.42 255.27L451.27 255.70L451.13 256.13L450.98 256.56L450.83 257.06L450.69 257.57L450.54 258.09L450.39 258.60L450.25 259.11L450.10 259.62L449.95 260.12L449.81 260.62L449.66 261.12L449.51 261.61L449.37 262.09L449.22 262.57L449.07 263.04L448.93 263.50L448.78 263.96L448.63 264.41L448.49 264.85L448.34 265.29L448.19 265.72L448.05 266.14L447.90 266.56L447.75 266.97L447.61 267.38L447.46 267.79L447.31 268.19L447.17 268.59L447.02 269.07L446.87 269.58L446.73 270.08L446.58 270.59L446.43 271.09L446.29 271.59L446.14 272.08L445.99 272.57L445.85 273.05L445.70 273.53L445.55 274.00L445.41 274.46L445.26 274.91L445.11 275.36L444.97 275.79L444.82 276.22L444.67 276.64L444.53 277.05L444.38 277.46L444.23 277.85L444.09 278.24L443.94 278.63L443.79 279.01L443.65 279.38L443.50 279.75L443.35 280.12L443.21 280.57L443.06 281.07L442.91 281.57L442.77 282.06L442.62 282.55L442.47 283.03L442.33 283.51L442.18 283.99L442.03 284.45L441.89 284.91L441.74 285.36L441.59 285.80L441.45 286.24L441.30 286.66L441.15 287.07L441.01 287.47L440.86 287.87L440.71 288.25L440.57 288.63L440.42 288.99L440.27 289.35L440.13 289.70L439.98 290.05L439.83 290.39L439.69 290.73L439.54 291.06L439.39 291.48L439.25 291.96L439.10 292.44L438.95 292.92L438.81 293.39L438.66 293.86L438.51 294.32L438.37 294.78L438.22 295.22L438.07 295.66L437.93 296.09L437.78 296.51L437.63 296.92L437.49 297.31L437.34 297.70L437.19 298.07L437.05 298.44L436.90 298.79L436.75 299.13L436.61 299.47L436.46 299.79L436.31 300.11L436.17 300.42L436.02 300.72L435.87 301.02L435.73 301.32L435.58 301.69L435.43 302.16L435.29 302.62L435.14 303.08L434.99 303.53L434.85 303.98L434.70 304.42L434.55 304.85L434.41 305.28L434.26 305.69L434.11 306.09L433.97 306.48L433.82 306.86L433.67 307.23L433.53 307.59L433.38 307.93L433.23 308.26L433.09 308.58L432.94 308.89L432.79 309.19L432.65 309.48L432.50 309.76L432.35 310.03L432.21 310.30L432.06 310.56L431.91 310.81L431.77 311.13L431.62 311.58L431.47 312.02L431.33 312.45L431.18 312.88L431.03 313.31L430.89 313.72L430.74 314.13L430.59 314.53L430.45 314.91L430.30 315.29L430.15 315.65L430.01 316.00L429.86 316.33L429.71 316.66L429.57 316.97L429.42 317.26L429.27 317.55L429.13 317.82L428.98 318.08L428.83 318.33L428.69 318.57L428.54 318.80L428.39 319.03L428.25 319.25L428.10 319.46L427.95 319.73L427.81 320.14L427.66 320.55L427.51 320.96L427.37 321.37L427.22 321.76L427.07 322.15L426.93 322.53L426.78 322.90L426.63 323.25L426.49 323.60L426.34 323.93L426.19 324.24L426.05 324.54L425.90 324.83L425.75 325.11L425.61 325.37L425.46 325.61L425.31 325.85L425.17 326.07L425.02 326.28L424.87 326.47L424.73 326.66L424.58 326.85L424.43 327.02L424.29 327.19L424.14 327.40L423.99 327.78L423.85 328.17L423.70 328.55L423.55 328.92L423.41 329.28L423.26 329.64L423.11 329.99L422.97 330.32L422.82 330.65L422.67 330.95L422.53 331.25L422.38 331.53L422.23 331.80L422.09 332.05L421.94 332.28L421.79 332.50L421.65 332.71L421.50 332.90L421.35 333.08L421.21 333.25L421.06 333.40L420.91 333.55L420.77 333.69L420.62 333.82L420.47 333.95L420.33 334.08L420.18 334.44L420.03 334.79L419.89 335.13L419.74 335.47L419.59 335.80L419.45 336.13L419.30 336.44L419.15 336.74L419.01 337.03L418.86 337.30L418.71 337.56L418.57 337.80L418.42 338.03L418.27 338.24L418.13 338.44L417.98 338.61L417.83 338.78L417.69 338.93L417.54 339.07L417.39 339.19L417.25 339.30L417.10 339.40L416.95 339.50L416.81 339.58L416.66 339.66L416.51 339.74L416.37 340.05L416.22 340.36L416.07 340.67L415.93 340.98L415.78 341.27L415.63 341.56L415.49 341.83L415.34 342.10L415.19 342.35L415.05 342.58L414.90 342.80L414.75 343.00L414.61 343.19L414.46 343.36L414.31 343.51L414.17 343.65L414.02 343.77L413.87 343.88L413.73 343.97L413.58 344.05L413.43 344.12L413.29 344.18L413.14 344.22L412.99 344.26L412.85 344.30L412.70 344.33L412.55 344.57L412.41 344.85L412.26 345.12L412.11 345.39L411.97 345.64L411.82 345.89L411.67 346.13L411.53 346.35L411.38 346.56L411.23 346.75L411.09 346.93L410.94 347.09L410.79 347.24L410.65 347.37L410.50 347.48L410.35 347.57L410.21 347.65L410.06 347.71L409.91 347.76L409.77 347.80L409.62 347.82L409.47 347.83L409.33 347.83L409.18 347.82L409.03 347.81L408.89 347.79L408.74 347.97L408.59 348.21L408.45 348.44L408.30 348.66L408.15 348.88L408.01 349.09L407.86 349.28L407.71 349.46L407.57 349.63L407.42 349.78L407.27 349.92L407.13 350.04L406.98 350.14L406.83 350.23L406.69 350.29L406.54 350.35L406.39 350.38L406.25 350.40L406.10 350.40L405.95 350.39L405.81 350.37L405.66 350.33L405.51 350.29L405.37 350.23L405.22 350.17L405.07 350.11L404.93 350.22L404.78 350.41L404.63 350.60L404.49 350.78L404.34 350.96L404.19 351.12L404.05 351.27L403.90 351.41L403.75 351.54L403.61 351.65L403.46 351.74L403.31 351.82L403.17 351.87L403.02 351.92L402.87 351.94L402.73 351.95L402.58 351.94L402.43 351.91L402.29 351.87L402.14 351.81L401.99 351.74L401.85 351.66L401.70 351.57L401.55 351.47L401.41 351.37L401.26 351.26L401.11 351.29L400.97 351.44L400.82 351.59L400.67 351.73L400.53 351.86L400.38 351.98L400.23 352.08L400.09 352.18L399.94 352.26L399.79 352.33L399.65 352.38L399.50 352.41L399.35 352.42L399.21 352.42L399.06 352.40L398.91 352.36L398.77 352.31L398.62 352.24L398.47 352.15L398.33 352.05L398.18 351.93L398.03 351.81L397.89 351.67L397.74 351.53L397.59 351.38L397.45 351.23L397.30 351.19L397.15 351.29L397.01 351.39L396.86 351.49L396.71 351.57L396.57 351.65L396.42 351.71L396.27 351.76L396.13 351.80L395.98 351.82L395.83 351.82L395.69 351.81L395.54 351.78L395.39 351.73L395.25 351.67L395.10 351.59L394.95 351.49L394.81 351.37L394.66 351.24L394.51 351.10L394.37 350.94L394.22 350.77L394.07 350.59L393.93 350.41L393.78 350.21L393.63 350.01L393.49 349.91L393.34 349.96L393.19 350.02L393.05 350.07L392.90 350.10L392.75 350.13L392.61 350.15L392.46 350.16L392.31 350.15L392.17 350.13L392.02 350.09L391.87 350.03L391.73 349.96L391.58 349.87L391.43 349.76L391.29 349.63L391.14 349.49L390.99 349.33L390.85 349.16L390.70 348.97L390.55 348.77L390.41 348.56L390.26 348.34L390.11 348.11L389.97 347.87L389.82 347.63L389.67 347.46L389.53 347.47L389.38 347.48L389.23 347.48L389.09 347.47L388.94 347.45L388.79 347.43L388.65 347.39L388.50 347.33L388.35 347.26L388.21 347.18L388.06 347.08L387.91 346.96L387.77 346.83L387.62 346.68L387.47 346.51L387.33 346.33L387.18 346.13L387.03 345.91L386.89 345.69L386.74 345.44L386.59 345.19L386.45 344.93L386.30 344.66L386.15 344.38L386.01 344.10L385.86 343.86L385.71 343.82L385.57 343.78L385.42 343.74L385.27 343.69L385.13 343.62L384.98 343.55L384.83 343.47L384.69 343.37L384.54 343.26L384.39 343.13L384.25 342.99L384.10 342.83L383.95 342.65L383.81 342.46L383.66 342.25L383.51 342.03L383.37 341.79L383.22 341.53L383.07 341.26L382.93 340.98L382.78 340.69L382.63 340.39L382.49 340.09L382.34 339.77L382.19 339.45L382.05 339.14L381.90 339.06L381.75 338.98L381.61 338.88L381.46 338.79L381.31 338.68L381.17 338.56L381.02 338.43L380.87 338.29L380.73 338.14L380.58 337.97L380.43 337.78L380.29 337.58L380.14 337.36L379.99 337.13L379.85 336.88L379.70 336.62L379.55 336.34L379.41 336.05L379.26 335.75L379.11 335.43L378.97 335.10L378.82 334.77L378.67 334.42L378.53 334.07L378.38 333.72L378.23 333.36L378.09 333.22L377.94 333.09L377.79 332.95L377.65 332.81L377.50 332.66L377.35 332.50L377.21 332.32L377.06 332.14L376.91 331.94L376.77 331.73L376.62 331.51L376.47 331.27L376.33 331.01L376.18 330.74L376.03 330.45L375.89 330.15L375.74 329.84L375.59 329.51L375.45 329.17L375.30 328.82L375.15 328.46L375.01 328.09L374.86 327.72L374.71 327.33L374.57 326.95L374.42 326.56L374.27 326.35L374.13 326.18L373.98 326.00L373.83 325.81L373.69 325.61L373.54 325.41L373.39 325.20L373.25 324.97L373.10 324.73L372.95 324.48L372.81 324.22L372.66 323.94L372.51 323.65L372.37 323.34L372.22 323.02L372.07 322.68L371.93 322.34L371.78 321.98L371.63 321.60L371.49 321.22L371.34 320.83L371.19 320.43L371.05 320.02L370.90 319.61L370.75 319.20L370.61 318.78L370.46 318.51L370.31 318.29L370.17 318.07L370.02 317.84L369.87 317.60L369.73 317.36L369.58 317.10L369.43 316.84L369.29 316.56L369.14 316.27L368.99 315.97L368.85 315.66L368.70 315.33L368.55 314.99L368.41 314.63L368.26 314.27L368.11 313.89L367.97 313.50L367.82 313.10L367.67 312.69L367.53 312.27L367.38 311.84L367.23 311.41L367.09 310.97L366.94 310.53L366.79 310.08L366.65 309.76L366.50 309.50L366.35 309.24L366.21 308.97L366.06 308.69L365.91 308.40L365.77 308.11L365.62 307.81L365.47 307.49L365.33 307.17L365.18 306.83L365.03 306.49L364.89 306.13L364.74 305.76L364.59 305.37L364.45 304.98L364.30 304.57L364.15 304.15L364.01 303.73L363.86 303.29L363.71 302.85L363.57 302.40L363.42 301.94L363.27 301.48L363.13 301.01L362.98 300.55L362.83 300.18L362.69 299.88L362.54 299.57L362.39 299.26L362.25 298.95L362.10 298.63L361.95 298.30L361.81 297.96L361.66 297.61L361.51 297.25L361.37 296.89L361.22 296.51L361.07 296.12L360.93 295.72L360.78 295.31L360.63 294.89L360.49 294.46L360.34 294.02L360.19 293.57L360.05 293.11L359.90 292.64L359.75 292.17L359.61 291.70L359.46 291.22L359.31 290.73L359.17 290.25L359.02 289.83L358.87 289.50L358.73 289.16L358.58 288.81L358.43 288.46L358.29 288.10L358.14 287.74L357.99 287.37L357.85 286.99L357.70 286.60L357.55 286.21L357.41 285.80L357.26 285.39L357.11 284.96L356.97 284.53L356.82 284.08L356.67 283.63L356.53 283.17L356.38 282.70L356.23 282.22L356.09 281.74L355.94 281.26L355.79 280.76L355.65 280.27L355.50 279.77L355.35 279.27L355.21 278.82L355.06 278.45L354.91 278.07L354.77 277.70L354.62 277.31L354.47 276.93L354.33 276.53L354.18 276.13L354.03 275.72L353.89 275.31L353.74 274.89L353.59 274.45L353.45 274.01L353.30 273.57L353.15 273.11L353.01 272.65L352.86 272.18L352.71 271.70L352.57 271.22L352.42 270.73L352.27 270.23L352.13 269.73L351.98 269.23L351.83 268.72L351.69 268.21L351.54 267.70L351.39 267.22L351.25 266.82L351.10 266.42L350.95 266.01L350.81 265.60L350.66 265.18L350.51 264.76L350.37 264.33L350.22 263.90L350.07 263.46L349.93 263.01L349.78 262.56L349.63 262.10L349.49 261.63L349.34 261.16L349.19 260.68L349.05 260.20L348.90 259.71L348.75 259.21L348.61 258.71L348.46 258.21L348.31 257.70L348.17 257.19L348.02 256.67L347.87 256.16L347.73 255.64L347.58 255.14L347.43 254.71L347.29 254.28L347.14 253.85L346.99 253.41L346.85 252.97L346.70 252.52L346.55 252.07L346.41 251.61L346.26 251.15L346.11 250.69L345.97 250.22L345.82 249.74L345.67 249.26L345.53 248.77L345.38 248.28L345.23 247.79L345.09 247.29L344.94 246.78L344.79 246.28L344.65 245.77L344.50 245.25L344.35 244.74L344.21 244.22L344.06 243.71L343.91 243.19L343.77 242.68L343.62 242.22L343.47 241.77L343.33 241.31L343.18 240.85L343.03 240.38L342.89 239.92L342.74 239.45L342.59 238.97L342.45 238.49L342.30 238.01L342.15 237.53L342.01 237.04L341.86 236.55L341.71 236.05L341.57 235.55L341.42 235.05L341.27 234.54L341.13 234.04L340.98 233.53L340.83 233.02L340.69 232.50L340.54 231.99L340.39 231.47L340.25 230.96L340.10 230.44L339.95 229.93L339.81 229.45L339.66 228.97L339.51 228.50L339.37 228.02L339.22 227.54L339.07 227.05L338.93 226.56L338.78 226.08L338.63 225.59L338.49 225.09L338.34 224.60L338.19 224.10L338.05 223.60L337.90 223.10L337.75 222.59L337.61 222.09L337.46 221.58L337.31 221.07L337.17 220.56L337.02 220.06L336.87 219.55L336.73 219.04L336.58 218.53L336.43 218.02L336.29 217.51L336.14 217.00L335.99 216.51L335.85 216.01L335.70 215.52L335.55 215.03L335.41 214.53L335.26 214.03L335.11 213.53L334.97 213.03L334.82 212.53L334.67 212.03L334.53 211.53L334.38 211.02L334.23 210.52L334.09 210.02L333.94 209.51L333.79 209.01L333.65 208.50L333.50 208.00Z" fill="#FF0000" stroke="#FF0000" stroke-width="1.6" stroke-linejoin="round"/>
<path d="M69.5 12.5V403.5H531.5" stroke="#3a3a3a" stroke-width="0.85" fill="none"/>
<g font-family="'Liberation Serif', 'Times New Roman', serif" font-size="27.2" fill="#000" stroke="#000" stroke-width="0.9">
<text transform="translate(60.3 408.10) scale(1.0 1)" text-anchor="end">-4</text>
<text transform="translate(60.3 360.48) scale(1.0 1)" text-anchor="end">-3</text>
<text transform="translate(60.3 312.85) scale(1.0 1)" text-anchor="end">-2</text>
<text transform="translate(60.3 265.23) scale(1.0 1)" text-anchor="end">-1</text>
<text transform="translate(60.3 217.60) scale(1.0 1)" text-anchor="end">0</text>
<text transform="translate(60.3 169.97) scale(1.0 1)" text-anchor="end">1</text>
<text transform="translate(60.3 122.35) scale(1.0 1)" text-anchor="end">2</text>
<text transform="translate(60.3 74.72) scale(1.0 1)" text-anchor="end">3</text>
<text transform="translate(60.3 27.10) scale(1.0 1)" text-anchor="end">4</text>
<text transform="translate(69.10 437.0) scale(1.0 1)" text-anchor="middle">0</text>
<text transform="translate(135.10 437.0) scale(1.0 1)" text-anchor="middle">5</text>
<text transform="translate(201.10 437.0) scale(1.0 1)" text-anchor="middle">10</text>
<text transform="translate(267.10 437.0) scale(1.0 1)" text-anchor="middle">15</text>
<text transform="translate(333.10 437.0) scale(1.0 1)" text-anchor="middle">20</text>
<text transform="translate(399.10 437.0) scale(1.0 1)" text-anchor="middle">25</text>
<text transform="translate(465.10 437.0) scale(1.0 1)" text-anchor="middle">30</text>
<text transform="translate(531.10 437.0) scale(1.0 1)" text-anchor="middle">35</text>
</g>
<text transform="translate(254.1 470.3) scale(1.107 1)" text-anchor="start" font-family="'Liberation Serif', 'Times New Roman', serif" font-size="27.5" fill="#000" stroke="#000" stroke-width="0.8">time <tspan dx="-1.3" letter-spacing="1.6">(s)</tspan></text>
<text transform="translate(28.6 208.2) rotate(-90) scale(1 1.065)" text-anchor="middle" font-family="'Liberation Serif', 'Times New Roman', serif" font-size="29.6" letter-spacing="0.52" fill="#000" stroke="#000" stroke-width="0.25">Steering torque (Nm)</text>
<rect x="281.3" y="21.7" width="241.5" height="61.5" fill="#fff" stroke="#3a3a3a" stroke-width="0.9"/>
<path d="M285.2 38.4H320.2" stroke="#0072BD" stroke-width="1.6" stroke-opacity="0.85"/>
<path d="M285.2 67.7H320.2" stroke="#FF0000" stroke-width="1.2" stroke-opacity="0.85" stroke-dasharray="6.9 2.6"/>
<g font-family="'Liberation Serif', 'Times New Roman', serif" font-size="25.1" fill="#000">
<text x="322.6" y="46.9">No fault</text>
<text x="322.6" y="74.9">Gain variation fault</text>
</g>
</svg>
</body></html>
